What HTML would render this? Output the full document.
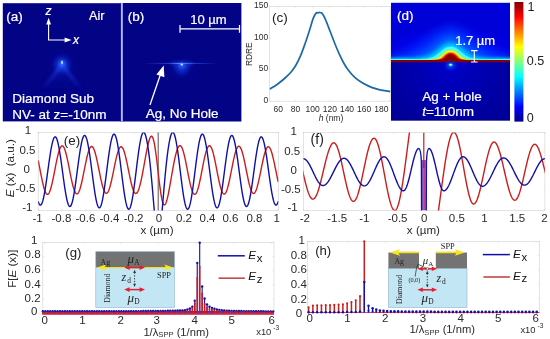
<!DOCTYPE html>
<html lang="en"><head><meta charset="utf-8"><title>Figure</title>
<style>html,body{margin:0;padding:0;background:#fff;}body{width:550px;height:339px;overflow:hidden;}svg{display:block;font-family:"Liberation Sans",Arial,sans-serif;}</style>
</head><body>
<svg width="550" height="339" viewBox="0 0 550 339">
<defs>
<filter id="b1" x="-50%" y="-50%" width="200%" height="200%"><feGaussianBlur stdDeviation="0.7"/></filter>
<filter id="b2" x="-50%" y="-50%" width="200%" height="200%"><feGaussianBlur stdDeviation="1.6"/></filter>
<filter id="b3" x="-50%" y="-50%" width="200%" height="200%"><feGaussianBlur stdDeviation="3"/></filter>
<filter id="b4" x="-50%" y="-50%" width="200%" height="200%"><feGaussianBlur stdDeviation="5"/></filter>
<filter id="b12" x="-50%" y="-50%" width="200%" height="200%"><feGaussianBlur stdDeviation="1.1"/></filter>
<filter id="b05" x="-50%" y="-50%" width="200%" height="200%"><feGaussianBlur stdDeviation="0.45"/></filter>
<radialGradient id="glowA" cx="0.5" cy="0.5" r="0.5"><stop offset="0" stop-color="#2a5cff" stop-opacity="0.85"/><stop offset="0.25" stop-color="#1030e8" stop-opacity="0.5"/><stop offset="0.6" stop-color="#0818c0" stop-opacity="0.2"/><stop offset="1" stop-color="#030386" stop-opacity="0"/></radialGradient>
<linearGradient id="rayA" x1="0" y1="0" x2="0" y2="1"><stop offset="0" stop-color="#2244ee" stop-opacity="0.55"/><stop offset="1" stop-color="#1020c0" stop-opacity="0"/></linearGradient>
<linearGradient id="rayA2" x1="0" y1="0" x2="0" y2="1"><stop offset="0" stop-color="#2c50ff" stop-opacity="0.95"/><stop offset="0.5" stop-color="#1c38e0" stop-opacity="0.6"/><stop offset="1" stop-color="#1020c0" stop-opacity="0"/></linearGradient>
<linearGradient id="lineB" x1="0" y1="0" x2="1" y2="0"><stop offset="0" stop-color="#3060ff" stop-opacity="0"/><stop offset="0.35" stop-color="#3a6cff" stop-opacity="0.55"/><stop offset="0.5" stop-color="#60a0ff" stop-opacity="0.95"/><stop offset="0.65" stop-color="#3a6cff" stop-opacity="0.55"/><stop offset="1" stop-color="#3060ff" stop-opacity="0"/></linearGradient>
<linearGradient id="jet" x1="0" y1="0" x2="0" y2="1"><stop offset="0" stop-color="#800000"/><stop offset="0.125" stop-color="#ff0000"/><stop offset="0.375" stop-color="#ffff00"/><stop offset="0.5" stop-color="#80ff80"/><stop offset="0.625" stop-color="#00ffff"/><stop offset="0.875" stop-color="#0000ff"/><stop offset="1" stop-color="#00008f"/></linearGradient>
<radialGradient id="dglow" cx="0.5" cy="1" r="0.62" gradientTransform="translate(0 0)"><stop offset="0" stop-color="#0060ff"/><stop offset="0.3" stop-color="#0028ff"/><stop offset="0.6" stop-color="#0008f6"/><stop offset="1" stop-color="#0000d8"/></radialGradient>
<radialGradient id="dlow" gradientUnits="userSpaceOnUse" cx="450.6" cy="62" r="75"><stop offset="0" stop-color="#0000d0"/><stop offset="0.2" stop-color="#0000c0"/><stop offset="0.5" stop-color="#0000ae"/><stop offset="0.8" stop-color="#0000a0"/><stop offset="1" stop-color="#000098"/></radialGradient>
<clipPath id="clipD"><rect x="391" y="2.6" width="119" height="118"/></clipPath>
<clipPath id="clipDup"><rect x="391" y="2.6" width="119" height="59.5"/></clipPath>
<clipPath id="clipA"><rect x="3" y="3" width="118" height="118.5"/></clipPath>
<clipPath id="clipB"><rect x="123" y="3" width="118.4" height="118.5"/></clipPath>
<clipPath id="clipBlow"><rect x="123" y="63.4" width="118.4" height="58"/></clipPath>
<clipPath id="clipC"><rect x="269.6" y="6.5" width="121" height="94.7"/></clipPath>
<clipPath id="clipE"><rect x="38.2" y="132.4" width="240.2" height="78.1"/></clipPath>
<clipPath id="clipF"><rect x="303.3" y="132.4" width="241.6" height="78.1"/></clipPath>
</defs>
<rect x="0" y="0" width="550" height="339" fill="#fff"/>
<rect x="2.8" y="3.2" width="118.7" height="118.2" fill="#030386"/>
<g clip-path="url(#clipA)">
<circle cx="62" cy="65" r="17" fill="url(#glowA)" opacity="0.6"/>
<polygon points="62,63 41,92 83,92" fill="url(#rayA)" opacity="0.45" filter="url(#b2)"/>
<g filter="url(#b2)" opacity="0.62">
<polygon points="60.8,63.4 63.2,65 45.4,91 40.4,88" fill="url(#rayA2)"/>
<polygon points="63.2,63.4 60.8,65 78.6,91 83.6,88" fill="url(#rayA2)"/>
</g>
<ellipse cx="62" cy="64.6" rx="5.5" ry="6" fill="#1c48f0" filter="url(#b3)" opacity="0.9"/>
<ellipse cx="62" cy="63.4" rx="2.4" ry="3" fill="#2f6cff" filter="url(#b2)"/>
<ellipse cx="62" cy="62.4" rx="0.9" ry="1.9" fill="#a8e4ff" filter="url(#b05)"/>
</g>
<text x="6.2" y="21" font-size="13.5" fill="#fff" text-anchor="start" stroke="#fff" stroke-width="0.22">(a)</text>
<text x="45.6" y="14.6" font-size="12" fill="#fff" text-anchor="start" font-style="italic" stroke="#fff" stroke-width="0.22">z</text>
<text x="73" y="43.6" font-size="12" fill="#fff" text-anchor="start" font-style="italic" stroke="#fff" stroke-width="0.22">x</text>
<text x="89" y="20.4" font-size="12.6" fill="#fff" text-anchor="start" stroke="#fff" stroke-width="0.22">Air</text>
<path d="M48.6 22 V40 H66" stroke="#fff" stroke-width="1.1" fill="none"/>
<polygon points="48.6,17.8 46.2,24.6 51,24.6" fill="#fff"/>
<polygon points="71.6,40 64.6,37.6 64.6,42.4" fill="#fff"/>
<text x="12.3" y="102.6" font-size="13.5" fill="#fff" text-anchor="start" stroke="#fff" stroke-width="0.22">Diamond Sub</text>
<text x="12.3" y="118.6" font-size="13.5" fill="#fff" text-anchor="start" stroke="#fff" stroke-width="0.22">NV- at z=-10nm</text>
<rect x="120.6" y="3" width="2.6" height="118.5" fill="#030386"/>
<rect x="120.9" y="3" width="1.9" height="118.5" fill="#b8b8ff"/>
<rect x="123" y="3" width="118.4" height="118.5" fill="#030386"/>
<g clip-path="url(#clipB)">
<g clip-path="url(#clipBlow)">
<ellipse cx="181.8" cy="66" rx="17" ry="19" fill="url(#glowA)" opacity="0.6"/>
<ellipse cx="181.8" cy="66" rx="5" ry="6" fill="#1c48f0" filter="url(#b3)" opacity="0.9"/>
</g>
<ellipse cx="181.8" cy="63.5" rx="12" ry="3" fill="#1838e0" filter="url(#b2)" opacity="0.5"/>
<rect x="143" y="62.9" width="76" height="1.1" fill="url(#lineB)" filter="url(#b05)"/>
<ellipse cx="181.8" cy="65.2" rx="2.4" ry="2.2" fill="#2f6cff" filter="url(#b2)"/>
<ellipse cx="181.8" cy="64.6" rx="1.3" ry="1.0" fill="#a8e4ff" filter="url(#b05)"/>
</g>
<text x="127.8" y="21" font-size="13.5" fill="#fff" text-anchor="start" stroke="#fff" stroke-width="0.22">(b)</text>
<text x="190.2" y="23.7" font-size="13" fill="#fff" text-anchor="start" stroke="#fff" stroke-width="0.22">10 µm</text>
<path d="M180 28.9 H239.5 M180 25 V32.8 M239.5 25 V32.8" stroke="#fff" stroke-width="1.2" fill="none"/>
<path d="M150 105 L160.6 74" stroke="#fff" stroke-width="1.3" fill="none"/>
<polygon points="163.7,65.6 156.4,74.6 164.4,77.2" fill="#fff"/>
<text x="145.8" y="118.1" font-size="13.5" fill="#fff" text-anchor="start" stroke="#fff" stroke-width="0.22">Ag, No Hole</text>
<rect x="269.6" y="6.5" width="120.6" height="94.7" fill="#fff" stroke="#d0d0d0" stroke-width="0.6"/>
<path d="M278.2 101.2 v-1.2 M278.2 6.5 v1.2" stroke="#d0d0d0" stroke-width="0.5"/>
<text x="278.2" y="112" font-size="8.5" fill="#2a2a2a" text-anchor="middle" >60</text>
<path d="M295.4 101.2 v-1.2 M295.4 6.5 v1.2" stroke="#d0d0d0" stroke-width="0.5"/>
<text x="295.4" y="112" font-size="8.5" fill="#2a2a2a" text-anchor="middle" >80</text>
<path d="M312.6 101.2 v-1.2 M312.6 6.5 v1.2" stroke="#d0d0d0" stroke-width="0.5"/>
<text x="312.6" y="112" font-size="8.5" fill="#2a2a2a" text-anchor="middle" >100</text>
<path d="M329.8 101.2 v-1.2 M329.8 6.5 v1.2" stroke="#d0d0d0" stroke-width="0.5"/>
<text x="329.8" y="112" font-size="8.5" fill="#2a2a2a" text-anchor="middle" >120</text>
<path d="M347 101.2 v-1.2 M347 6.5 v1.2" stroke="#d0d0d0" stroke-width="0.5"/>
<text x="347" y="112" font-size="8.5" fill="#2a2a2a" text-anchor="middle" >140</text>
<path d="M364.2 101.2 v-1.2 M364.2 6.5 v1.2" stroke="#d0d0d0" stroke-width="0.5"/>
<text x="364.2" y="112" font-size="8.5" fill="#2a2a2a" text-anchor="middle" >160</text>
<path d="M381.4 101.2 v-1.2 M381.4 6.5 v1.2" stroke="#d0d0d0" stroke-width="0.5"/>
<text x="381.4" y="112" font-size="8.5" fill="#2a2a2a" text-anchor="middle" >180</text>
<path d="M269.6 101.2 h1.2 M390.2 101.2 h-1.2" stroke="#d0d0d0" stroke-width="0.5"/>
<text x="268.2" y="103.05" font-size="8.5" fill="#2a2a2a" text-anchor="end" >0</text>
<path d="M269.6 69.63 h1.2 M390.2 69.63 h-1.2" stroke="#d0d0d0" stroke-width="0.5"/>
<text x="268.2" y="71.48" font-size="8.5" fill="#2a2a2a" text-anchor="end" >50</text>
<path d="M269.6 38.07 h1.2 M390.2 38.07 h-1.2" stroke="#d0d0d0" stroke-width="0.5"/>
<text x="268.2" y="39.92" font-size="8.5" fill="#2a2a2a" text-anchor="end" >100</text>
<path d="M269.6 6.5 h1.2 M390.2 6.5 h-1.2" stroke="#d0d0d0" stroke-width="0.5"/>
<text x="268.2" y="8.35" font-size="8.5" fill="#2a2a2a" text-anchor="end" >150</text>
<text x="331" y="120.6" font-size="8.5" fill="#2a2a2a" text-anchor="middle" ><tspan font-style="italic">h</tspan> (nm)</text>
<text transform="translate(252.4 54.2) rotate(-90)" font-size="8.4" fill="#2a2a2a" text-anchor="middle">RDRE</text>
<text x="272" y="21.6" font-size="13.6" fill="#222" text-anchor="start" >(c)</text>
<path d="M269.6 89.2C270.9 88.37 274.82 86.07 277.4 84.2C279.98 82.33 282.78 80.07 285.1 78C287.42 75.93 289.48 73.97 291.3 71.8C293.12 69.63 294.45 67.68 296 65C297.55 62.32 299.07 59.32 300.6 55.7C302.13 52.08 303.75 47.42 305.2 43.3C306.65 39.18 308 35.07 309.3 31C310.6 26.93 312.02 21.68 313 18.9C313.98 16.12 314.53 15.35 315.2 14.3C315.87 13.25 316.48 12.83 317 12.6C317.52 12.37 317.9 12.95 318.3 12.9C318.7 12.85 318.98 12.32 319.4 12.3C319.82 12.28 320.32 12.58 320.8 12.8C321.28 13.02 321.53 12.5 322.3 13.6C323.07 14.7 324.12 16.5 325.4 19.4C326.68 22.3 328.45 27.02 330 31C331.55 34.98 333.15 39.43 334.7 43.3C336.25 47.17 337.75 50.83 339.3 54.2C340.85 57.57 342.45 60.77 344 63.5C345.55 66.23 346.8 68.28 348.6 70.6C350.4 72.92 352.73 75.5 354.8 77.4C356.87 79.3 358.68 80.55 361 82C363.32 83.45 366.12 84.95 368.7 86.1C371.28 87.25 373.92 88.13 376.5 88.9C379.08 89.67 381.88 90.25 384.2 90.7C386.52 91.15 389.37 91.45 390.4 91.6" fill="none" stroke="#1a6aa6" stroke-width="1.7" stroke-linejoin="round" clip-path="url(#clipC)"/>
<g clip-path="url(#clipD)">
<rect x="391" y="2.6" width="119" height="59.6" fill="url(#dglow)"/>
<rect x="391" y="62" width="119" height="59" fill="url(#dlow)"/>
<rect x="391" y="119.2" width="119" height="2" fill="#00007a" opacity="0.7"/>
<g clip-path="url(#clipDup)">
<path d="M390 63.1L390 60.1L390 56.49L390.5 56.41L391 56.32L391.5 56.23L392 56.14L392.5 56.05L393 55.95L393.5 55.86L394 55.75L394.5 55.65L395 55.54L395.5 55.43L396 55.31L396.5 55.19L397 55.07L397.5 54.94L398 54.81L398.5 54.68L399 54.54L399.5 54.39L400 54.24L400.5 54.09L401 53.93L401.5 53.77L402 53.61L402.5 53.43L403 53.26L403.5 53.08L404 52.89L404.5 52.7L405 52.5L405.5 52.3L406 52.09L406.5 51.87L407 51.65L407.5 51.43L408 51.2L408.5 50.96L409 50.72L409.5 50.47L410 50.22L410.5 49.96L411 49.69L411.5 49.42L412 49.14L412.5 48.85L413 48.56L413.5 48.27L414 47.97L414.5 47.66L415 47.35L415.5 47.03L416 46.7L416.5 46.37L417 46.04L417.5 45.7L418 45.35L418.5 45L419 44.65L419.5 44.29L420 43.92L420.5 43.55L421 43.18L421.5 42.81L422 42.43L422.5 42.04L423 41.66L423.5 41.27L424 40.88L424.5 40.48L425 40.09L425.5 39.69L426 39.29L426.5 38.89L427 38.49L427.5 38.09L428 37.69L428.5 37.29L429 36.89L429.5 36.49L430 36.1L430.5 35.7L431 35.31L431.5 34.92L432 34.54L432.5 34.15L433 33.78L433.5 33.4L434 33.03L434.5 32.67L435 32.31L435.5 31.96L436 31.62L436.5 31.28L437 30.95L437.5 30.63L438 30.31L438.5 30.01L439 29.71L439.5 29.42L440 29.15L440.5 28.88L441 28.62L441.5 28.38L442 28.14L442.5 27.92L443 27.71L443.5 27.51L444 27.32L444.5 27.14L445 26.98L445.5 26.83L446 26.7L446.5 26.58L447 26.47L447.5 26.37L448 26.29L448.5 26.23L449 26.17L449.5 26.13L450 26.11L450.5 26.1L451 26.1L451.5 26.12L452 26.16L452.5 26.2L453 26.26L453.5 26.34L454 26.43L454.5 26.53L455 26.65L455.5 26.78L456 26.92L456.5 27.08L457 27.25L457.5 27.43L458 27.62L458.5 27.83L459 28.05L459.5 28.28L460 28.52L460.5 28.77L461 29.04L461.5 29.31L462 29.59L462.5 29.89L463 30.19L463.5 30.5L464 30.82L464.5 31.15L465 31.48L465.5 31.82L466 32.17L466.5 32.53L467 32.89L467.5 33.25L468 33.63L468.5 34L469 34.38L469.5 34.77L470 35.16L470.5 35.55L471 35.94L471.5 36.33L472 36.73L472.5 37.13L473 37.53L473.5 37.93L474 38.33L474.5 38.73L475 39.13L475.5 39.53L476 39.93L476.5 40.32L477 40.72L477.5 41.11L478 41.5L478.5 41.89L479 42.27L479.5 42.65L480 43.03L480.5 43.41L481 43.78L481.5 44.14L482 44.5L482.5 44.86L483 45.21L483.5 45.56L484 45.9L484.5 46.24L485 46.57L485.5 46.9L486 47.22L486.5 47.53L487 47.84L487.5 48.15L488 48.45L488.5 48.74L489 49.03L489.5 49.31L490 49.58L490.5 49.85L491 50.11L491.5 50.37L492 50.62L492.5 50.87L493 51.1L493.5 51.34L494 51.57L494.5 51.79L495 52L495.5 52.21L496 52.42L496.5 52.62L497 52.81L497.5 53L498 53.19L498.5 53.36L499 53.54L499.5 53.71L500 53.87L500.5 54.03L501 54.18L501.5 54.33L502 54.48L502.5 54.62L503 54.76L503.5 54.89L504 55.02L504.5 55.14L505 55.26L505.5 55.38L506 55.49L506.5 55.61L507 55.71L507.5 55.82L508 55.92L508.5 56.01L509 56.11L509.5 56.2L510 56.29L510.5 56.37L511 56.46L511 63.1Z" fill="#0038ff" filter="url(#b4)" opacity="0.75"/>
<path d="M390 63.1L390 59.1L390 58.67L390.5 58.66L391 58.64L391.5 58.63L392 58.61L392.5 58.59L393 58.57L393.5 58.56L394 58.54L394.5 58.52L395 58.49L395.5 58.47L396 58.45L396.5 58.43L397 58.4L397.5 58.37L398 58.35L398.5 58.32L399 58.29L399.5 58.26L400 58.22L400.5 58.19L401 58.15L401.5 58.11L402 58.07L402.5 58.03L403 57.99L403.5 57.94L404 57.89L404.5 57.84L405 57.78L405.5 57.72L406 57.66L406.5 57.6L407 57.53L407.5 57.46L408 57.38L408.5 57.3L409 57.22L409.5 57.13L410 57.04L410.5 56.94L411 56.84L411.5 56.73L412 56.62L412.5 56.5L413 56.37L413.5 56.24L414 56.1L414.5 55.96L415 55.8L415.5 55.65L416 55.48L416.5 55.31L417 55.12L417.5 54.93L418 54.74L418.5 54.53L419 54.32L419.5 54.09L420 53.86L420.5 53.62L421 53.37L421.5 53.12L422 52.85L422.5 52.57L423 52.29L423.5 52L424 51.69L424.5 51.38L425 51.06L425.5 50.73L426 50.4L426.5 50.05L427 49.7L427.5 49.34L428 48.97L428.5 48.6L429 48.21L429.5 47.83L430 47.43L430.5 47.03L431 46.63L431.5 46.22L432 45.81L432.5 45.4L433 44.98L433.5 44.57L434 44.15L434.5 43.73L435 43.31L435.5 42.89L436 42.48L436.5 42.07L437 41.66L437.5 41.26L438 40.86L438.5 40.47L439 40.09L439.5 39.71L440 39.35L440.5 38.99L441 38.65L441.5 38.32L442 37.99L442.5 37.69L443 37.39L443.5 37.12L444 36.85L444.5 36.61L445 36.38L445.5 36.16L446 35.97L446.5 35.79L447 35.64L447.5 35.5L448 35.38L448.5 35.28L449 35.21L449.5 35.15L450 35.12L450.5 35.1L451 35.11L451.5 35.13L452 35.18L452.5 35.25L453 35.34L453.5 35.45L454 35.58L454.5 35.73L455 35.9L455.5 36.08L456 36.29L456.5 36.51L457 36.75L457.5 37.01L458 37.28L458.5 37.57L459 37.87L459.5 38.19L460 38.51L460.5 38.85L461 39.21L461.5 39.57L462 39.94L462.5 40.32L463 40.71L463.5 41.1L464 41.5L464.5 41.91L465 42.32L465.5 42.73L466 43.14L466.5 43.56L467 43.98L467.5 44.4L468 44.82L468.5 45.23L469 45.65L469.5 46.06L470 46.47L470.5 46.87L471 47.27L471.5 47.67L472 48.06L472.5 48.44L473 48.82L473.5 49.19L474 49.56L474.5 49.91L475 50.26L475.5 50.6L476 50.93L476.5 51.26L477 51.57L477.5 51.88L478 52.17L478.5 52.46L479 52.74L479.5 53.01L480 53.27L480.5 53.53L481 53.77L481.5 54L482 54.23L482.5 54.45L483 54.66L483.5 54.86L484 55.05L484.5 55.23L485 55.41L485.5 55.58L486 55.74L486.5 55.9L487 56.04L487.5 56.18L488 56.32L488.5 56.45L489 56.57L489.5 56.69L490 56.8L490.5 56.9L491 57L491.5 57.1L492 57.19L492.5 57.27L493 57.35L493.5 57.43L494 57.5L494.5 57.57L495 57.64L495.5 57.7L496 57.76L496.5 57.82L497 57.87L497.5 57.92L498 57.97L498.5 58.01L499 58.06L499.5 58.1L500 58.14L500.5 58.17L501 58.21L501.5 58.24L502 58.28L502.5 58.31L503 58.34L503.5 58.36L504 58.39L504.5 58.42L505 58.44L505.5 58.46L506 58.49L506.5 58.51L507 58.53L507.5 58.55L508 58.57L508.5 58.58L509 58.6L509.5 58.62L510 58.63L510.5 58.65L511 58.67L511 63.1Z" fill="#0068ff" filter="url(#b3)" opacity="0.8"/>
<path d="M390 63.1L390 57.9L390 57.89L390.5 57.89L391 57.89L391.5 57.89L392 57.89L392.5 57.89L393 57.89L393.5 57.89L394 57.89L394.5 57.89L395 57.89L395.5 57.88L396 57.88L396.5 57.88L397 57.88L397.5 57.88L398 57.88L398.5 57.87L399 57.87L399.5 57.87L400 57.87L400.5 57.86L401 57.86L401.5 57.86L402 57.85L402.5 57.85L403 57.85L403.5 57.84L404 57.84L404.5 57.83L405 57.83L405.5 57.82L406 57.81L406.5 57.81L407 57.8L407.5 57.79L408 57.78L408.5 57.77L409 57.76L409.5 57.75L410 57.73L410.5 57.72L411 57.7L411.5 57.69L412 57.67L412.5 57.64L413 57.62L413.5 57.6L414 57.57L414.5 57.54L415 57.5L415.5 57.47L416 57.43L416.5 57.38L417 57.34L417.5 57.28L418 57.23L418.5 57.16L419 57.1L419.5 57.02L420 56.94L420.5 56.86L421 56.76L421.5 56.66L422 56.55L422.5 56.43L423 56.31L423.5 56.17L424 56.02L424.5 55.87L425 55.7L425.5 55.52L426 55.33L426.5 55.13L427 54.92L427.5 54.7L428 54.46L428.5 54.21L429 53.95L429.5 53.67L430 53.39L430.5 53.09L431 52.78L431.5 52.45L432 52.12L432.5 51.77L433 51.42L433.5 51.05L434 50.68L434.5 50.29L435 49.9L435.5 49.51L436 49.1L436.5 48.7L437 48.29L437.5 47.88L438 47.47L438.5 47.06L439 46.65L439.5 46.25L440 45.85L440.5 45.46L441 45.08L441.5 44.71L442 44.35L442.5 44L443 43.67L443.5 43.35L444 43.05L444.5 42.77L445 42.51L445.5 42.27L446 42.05L446.5 41.85L447 41.67L447.5 41.52L448 41.39L448.5 41.29L449 41.21L449.5 41.15L450 41.11L450.5 41.1L451 41.11L451.5 41.13L452 41.18L452.5 41.25L453 41.35L453.5 41.47L454 41.61L454.5 41.78L455 41.96L455.5 42.18L456 42.41L456.5 42.66L457 42.94L457.5 43.23L458 43.54L458.5 43.87L459 44.21L459.5 44.56L460 44.93L460.5 45.31L461 45.69L461.5 46.09L462 46.49L462.5 46.89L463 47.3L463.5 47.71L464 48.13L464.5 48.53L465 48.94L465.5 49.35L466 49.74L466.5 50.14L467 50.52L467.5 50.9L468 51.27L468.5 51.63L469 51.98L469.5 52.32L470 52.65L470.5 52.96L471 53.27L471.5 53.56L472 53.84L472.5 54.11L473 54.36L473.5 54.6L474 54.83L474.5 55.05L475 55.26L475.5 55.45L476 55.63L476.5 55.8L477 55.96L477.5 56.11L478 56.25L478.5 56.38L479 56.5L479.5 56.62L480 56.72L480.5 56.82L481 56.91L481.5 56.99L482 57.07L482.5 57.14L483 57.2L483.5 57.26L484 57.32L484.5 57.36L485 57.41L485.5 57.45L486 57.49L486.5 57.52L487 57.56L487.5 57.59L488 57.61L488.5 57.64L489 57.66L489.5 57.68L490 57.7L490.5 57.71L491 57.73L491.5 57.74L492 57.75L492.5 57.77L493 57.78L493.5 57.79L494 57.8L494.5 57.8L495 57.81L495.5 57.82L496 57.82L496.5 57.83L497 57.84L497.5 57.84L498 57.84L498.5 57.85L499 57.85L499.5 57.86L500 57.86L500.5 57.86L501 57.87L501.5 57.87L502 57.87L502.5 57.87L503 57.88L503.5 57.88L504 57.88L504.5 57.88L505 57.88L505.5 57.88L506 57.88L506.5 57.89L507 57.89L507.5 57.89L508 57.89L508.5 57.89L509 57.89L509.5 57.89L510 57.89L510.5 57.89L511 57.89L511 63.1Z" fill="#00a0ff" filter="url(#b2)" opacity="0.9"/>
<path d="M390 63.1L390 58.5L390 58.5L390.5 58.5L391 58.5L391.5 58.5L392 58.5L392.5 58.5L393 58.5L393.5 58.5L394 58.5L394.5 58.5L395 58.5L395.5 58.5L396 58.5L396.5 58.5L397 58.5L397.5 58.5L398 58.5L398.5 58.5L399 58.5L399.5 58.5L400 58.5L400.5 58.5L401 58.5L401.5 58.5L402 58.5L402.5 58.5L403 58.5L403.5 58.49L404 58.49L404.5 58.49L405 58.49L405.5 58.49L406 58.49L406.5 58.49L407 58.49L407.5 58.49L408 58.49L408.5 58.48L409 58.48L409.5 58.48L410 58.48L410.5 58.47L411 58.47L411.5 58.47L412 58.46L412.5 58.46L413 58.46L413.5 58.45L414 58.44L414.5 58.44L415 58.43L415.5 58.42L416 58.41L416.5 58.4L417 58.39L417.5 58.37L418 58.36L418.5 58.34L419 58.32L419.5 58.3L420 58.27L420.5 58.24L421 58.21L421.5 58.17L422 58.13L422.5 58.08L423 58.03L423.5 57.97L424 57.9L424.5 57.83L425 57.75L425.5 57.66L426 57.56L426.5 57.45L427 57.33L427.5 57.2L428 57.06L428.5 56.9L429 56.73L429.5 56.55L430 56.35L430.5 56.13L431 55.91L431.5 55.66L432 55.4L432.5 55.13L433 54.84L433.5 54.53L434 54.21L434.5 53.87L435 53.52L435.5 53.16L436 52.79L436.5 52.4L437 52.01L437.5 51.61L438 51.2L438.5 50.79L439 50.38L439.5 49.96L440 49.55L440.5 49.14L441 48.74L441.5 48.34L442 47.96L442.5 47.58L443 47.22L443.5 46.88L444 46.56L444.5 46.25L445 45.97L445.5 45.71L446 45.48L446.5 45.26L447 45.08L447.5 44.92L448 44.79L448.5 44.68L449 44.6L449.5 44.54L450 44.51L450.5 44.5L451 44.5L451.5 44.53L452 44.58L452.5 44.65L453 44.74L453.5 44.86L454 45.01L454.5 45.19L455 45.39L455.5 45.61L456 45.86L456.5 46.14L457 46.43L457.5 46.75L458 47.09L458.5 47.44L459 47.8L459.5 48.19L460 48.58L460.5 48.98L461 49.38L461.5 49.8L462 50.21L462.5 50.62L463 51.04L463.5 51.45L464 51.85L464.5 52.25L465 52.63L465.5 53.01L466 53.38L466.5 53.73L467 54.08L467.5 54.4L468 54.71L468.5 55.01L469 55.29L469.5 55.56L470 55.81L470.5 56.04L471 56.26L471.5 56.47L472 56.66L472.5 56.83L473 57L473.5 57.14L474 57.28L474.5 57.41L475 57.52L475.5 57.62L476 57.72L476.5 57.8L477 57.88L477.5 57.95L478 58.01L478.5 58.06L479 58.11L479.5 58.15L480 58.19L480.5 58.23L481 58.26L481.5 58.29L482 58.31L482.5 58.33L483 58.35L483.5 58.37L484 58.38L484.5 58.4L485 58.41L485.5 58.42L486 58.43L486.5 58.43L487 58.44L487.5 58.45L488 58.45L488.5 58.46L489 58.46L489.5 58.47L490 58.47L490.5 58.47L491 58.48L491.5 58.48L492 58.48L492.5 58.48L493 58.48L493.5 58.49L494 58.49L494.5 58.49L495 58.49L495.5 58.49L496 58.49L496.5 58.49L497 58.49L497.5 58.49L498 58.5L498.5 58.5L499 58.5L499.5 58.5L500 58.5L500.5 58.5L501 58.5L501.5 58.5L502 58.5L502.5 58.5L503 58.5L503.5 58.5L504 58.5L504.5 58.5L505 58.5L505.5 58.5L506 58.5L506.5 58.5L507 58.5L507.5 58.5L508 58.5L508.5 58.5L509 58.5L509.5 58.5L510 58.5L510.5 58.5L511 58.5L511 63.1Z" fill="#00d4ff" filter="url(#b12)" opacity="0.95"/>
<path d="M390 63.1L390 59L390 59L390.5 59L391 59L391.5 59L392 59L392.5 59L393 59L393.5 59L394 59L394.5 59L395 59L395.5 59L396 59L396.5 59L397 59L397.5 59L398 59L398.5 59L399 59L399.5 59L400 59L400.5 59L401 59L401.5 59L402 59L402.5 59L403 59L403.5 59L404 59L404.5 59L405 59L405.5 59L406 59L406.5 59L407 59L407.5 59L408 59L408.5 58.99L409 58.99L409.5 58.99L410 58.99L410.5 58.99L411 58.99L411.5 58.99L412 58.99L412.5 58.99L413 58.98L413.5 58.98L414 58.98L414.5 58.98L415 58.98L415.5 58.97L416 58.97L416.5 58.97L417 58.96L417.5 58.96L418 58.95L418.5 58.95L419 58.94L419.5 58.93L420 58.92L420.5 58.91L421 58.9L421.5 58.89L422 58.87L422.5 58.86L423 58.84L423.5 58.82L424 58.79L424.5 58.76L425 58.73L425.5 58.69L426 58.65L426.5 58.6L427 58.54L427.5 58.47L428 58.4L428.5 58.31L429 58.22L429.5 58.11L430 57.99L430.5 57.86L431 57.71L431.5 57.54L432 57.36L432.5 57.16L433 56.94L433.5 56.7L434 56.45L434.5 56.17L435 55.88L435.5 55.56L436 55.23L436.5 54.88L437 54.52L437.5 54.14L438 53.75L438.5 53.34L439 52.93L439.5 52.51L440 52.08L440.5 51.66L441 51.23L441.5 50.81L442 50.4L442.5 50L443 49.61L443.5 49.24L444 48.89L444.5 48.56L445 48.25L445.5 47.97L446 47.72L446.5 47.49L447 47.29L447.5 47.12L448 46.99L448.5 46.88L449 46.8L449.5 46.74L450 46.71L450.5 46.7L451 46.7L451.5 46.73L452 46.77L452.5 46.84L453 46.94L453.5 47.07L454 47.22L454.5 47.41L455 47.62L455.5 47.87L456 48.14L456.5 48.43L457 48.76L457.5 49.1L458 49.46L458.5 49.85L459 50.24L459.5 50.65L460 51.07L460.5 51.49L461 51.91L461.5 52.34L462 52.76L462.5 53.18L463 53.58L463.5 53.98L464 54.37L464.5 54.74L465 55.1L465.5 55.43L466 55.75L466.5 56.06L467 56.34L467.5 56.6L468 56.85L468.5 57.07L469 57.28L469.5 57.47L470 57.64L470.5 57.8L471 57.94L471.5 58.06L472 58.18L472.5 58.28L473 58.37L473.5 58.44L474 58.51L474.5 58.57L475 58.63L475.5 58.67L476 58.71L476.5 58.75L477 58.78L477.5 58.81L478 58.83L478.5 58.85L479 58.87L479.5 58.88L480 58.9L480.5 58.91L481 58.92L481.5 58.93L482 58.94L482.5 58.94L483 58.95L483.5 58.95L484 58.96L484.5 58.96L485 58.97L485.5 58.97L486 58.97L486.5 58.98L487 58.98L487.5 58.98L488 58.98L488.5 58.99L489 58.99L489.5 58.99L490 58.99L490.5 58.99L491 58.99L491.5 58.99L492 58.99L492.5 58.99L493 59L493.5 59L494 59L494.5 59L495 59L495.5 59L496 59L496.5 59L497 59L497.5 59L498 59L498.5 59L499 59L499.5 59L500 59L500.5 59L501 59L501.5 59L502 59L502.5 59L503 59L503.5 59L504 59L504.5 59L505 59L505.5 59L506 59L506.5 59L507 59L507.5 59L508 59L508.5 59L509 59L509.5 59L510 59L510.5 59L511 59L511 63.1Z" fill="#50f4ff" filter="url(#b1)"/>
<path d="M390 63.1L390 59.6L390 59.6L390.5 59.6L391 59.6L391.5 59.6L392 59.6L392.5 59.6L393 59.6L393.5 59.6L394 59.6L394.5 59.6L395 59.6L395.5 59.6L396 59.6L396.5 59.6L397 59.6L397.5 59.6L398 59.6L398.5 59.6L399 59.6L399.5 59.6L400 59.6L400.5 59.6L401 59.6L401.5 59.6L402 59.6L402.5 59.6L403 59.6L403.5 59.6L404 59.6L404.5 59.6L405 59.6L405.5 59.6L406 59.6L406.5 59.6L407 59.6L407.5 59.6L408 59.6L408.5 59.6L409 59.6L409.5 59.6L410 59.6L410.5 59.6L411 59.6L411.5 59.6L412 59.6L412.5 59.6L413 59.6L413.5 59.6L414 59.6L414.5 59.6L415 59.59L415.5 59.59L416 59.59L416.5 59.59L417 59.59L417.5 59.59L418 59.59L418.5 59.59L419 59.58L419.5 59.58L420 59.58L420.5 59.57L421 59.57L421.5 59.57L422 59.56L422.5 59.56L423 59.55L423.5 59.55L424 59.54L424.5 59.53L425 59.52L425.5 59.51L426 59.5L426.5 59.48L427 59.47L427.5 59.45L428 59.42L428.5 59.4L429 59.36L429.5 59.33L430 59.28L430.5 59.23L431 59.17L431.5 59.09L432 59.01L432.5 58.91L433 58.79L433.5 58.66L434 58.5L434.5 58.32L435 58.12L435.5 57.9L436 57.65L436.5 57.37L437 57.07L437.5 56.74L438 56.38L438.5 56L439 55.6L439.5 55.18L440 54.74L440.5 54.29L441 53.84L441.5 53.38L442 52.92L442.5 52.47L443 52.03L443.5 51.61L444 51.2L444.5 50.83L445 50.47L445.5 50.16L446 49.87L446.5 49.62L447 49.4L447.5 49.22L448 49.08L448.5 48.97L449 48.89L449.5 48.84L450 48.81L450.5 48.8L451 48.8L451.5 48.82L452 48.86L452.5 48.93L453 49.03L453.5 49.16L454 49.33L454.5 49.53L455 49.76L455.5 50.04L456 50.34L456.5 50.68L457 51.05L457.5 51.44L458 51.86L458.5 52.29L459 52.74L459.5 53.19L460 53.65L460.5 54.11L461 54.56L461.5 55.01L462 55.43L462.5 55.84L463 56.23L463.5 56.6L464 56.94L464.5 57.25L465 57.54L465.5 57.8L466 58.04L466.5 58.25L467 58.43L467.5 58.6L468 58.74L468.5 58.86L469 58.97L469.5 59.06L470 59.14L470.5 59.21L471 59.26L471.5 59.31L472 59.35L472.5 59.38L473 59.41L473.5 59.44L474 59.46L474.5 59.48L475 59.49L475.5 59.5L476 59.52L476.5 59.53L477 59.53L477.5 59.54L478 59.55L478.5 59.56L479 59.56L479.5 59.57L480 59.57L480.5 59.57L481 59.58L481.5 59.58L482 59.58L482.5 59.58L483 59.59L483.5 59.59L484 59.59L484.5 59.59L485 59.59L485.5 59.59L486 59.59L486.5 59.6L487 59.6L487.5 59.6L488 59.6L488.5 59.6L489 59.6L489.5 59.6L490 59.6L490.5 59.6L491 59.6L491.5 59.6L492 59.6L492.5 59.6L493 59.6L493.5 59.6L494 59.6L494.5 59.6L495 59.6L495.5 59.6L496 59.6L496.5 59.6L497 59.6L497.5 59.6L498 59.6L498.5 59.6L499 59.6L499.5 59.6L500 59.6L500.5 59.6L501 59.6L501.5 59.6L502 59.6L502.5 59.6L503 59.6L503.5 59.6L504 59.6L504.5 59.6L505 59.6L505.5 59.6L506 59.6L506.5 59.6L507 59.6L507.5 59.6L508 59.6L508.5 59.6L509 59.6L509.5 59.6L510 59.6L510.5 59.6L511 59.6L511 63.1Z" fill="#60ffb0" filter="url(#b1)"/>
<path d="M390 63.1L390 59.9L390 59.9L390.5 59.9L391 59.9L391.5 59.9L392 59.9L392.5 59.9L393 59.9L393.5 59.9L394 59.9L394.5 59.9L395 59.9L395.5 59.9L396 59.9L396.5 59.9L397 59.9L397.5 59.9L398 59.9L398.5 59.9L399 59.9L399.5 59.9L400 59.9L400.5 59.9L401 59.9L401.5 59.9L402 59.9L402.5 59.9L403 59.9L403.5 59.9L404 59.9L404.5 59.9L405 59.9L405.5 59.9L406 59.9L406.5 59.9L407 59.9L407.5 59.9L408 59.9L408.5 59.9L409 59.9L409.5 59.9L410 59.9L410.5 59.9L411 59.9L411.5 59.9L412 59.9L412.5 59.9L413 59.9L413.5 59.9L414 59.9L414.5 59.9L415 59.9L415.5 59.9L416 59.9L416.5 59.9L417 59.9L417.5 59.9L418 59.89L418.5 59.89L419 59.89L419.5 59.89L420 59.89L420.5 59.89L421 59.89L421.5 59.88L422 59.88L422.5 59.88L423 59.87L423.5 59.87L424 59.86L424.5 59.86L425 59.85L425.5 59.85L426 59.84L426.5 59.83L427 59.82L427.5 59.81L428 59.8L428.5 59.79L429 59.78L429.5 59.76L430 59.75L430.5 59.73L431 59.7L431.5 59.68L432 59.65L432.5 59.61L433 59.57L433.5 59.52L434 59.45L434.5 59.37L435 59.28L435.5 59.16L436 59.03L436.5 58.86L437 58.67L437.5 58.44L438 58.18L438.5 57.88L439 57.55L439.5 57.18L440 56.78L440.5 56.36L441 55.9L441.5 55.43L442 54.95L442.5 54.46L443 53.97L443.5 53.5L444 53.05L444.5 52.62L445 52.22L445.5 51.85L446 51.53L446.5 51.25L447 51.01L447.5 50.82L448 50.67L448.5 50.56L449 50.48L449.5 50.43L450 50.41L450.5 50.4L451 50.4L451.5 50.42L452 50.46L452.5 50.52L453 50.62L453.5 50.76L454 50.93L454.5 51.15L455 51.41L455.5 51.72L456 52.07L456.5 52.45L457 52.87L457.5 53.32L458 53.78L458.5 54.27L459 54.75L459.5 55.24L460 55.72L460.5 56.18L461 56.62L461.5 57.03L462 57.41L462.5 57.75L463 58.07L463.5 58.34L464 58.58L464.5 58.79L465 58.96L465.5 59.11L466 59.24L466.5 59.34L467 59.42L467.5 59.49L468 59.55L468.5 59.6L469 59.63L469.5 59.67L470 59.69L470.5 59.72L471 59.74L471.5 59.76L472 59.77L472.5 59.79L473 59.8L473.5 59.81L474 59.82L474.5 59.83L475 59.84L475.5 59.84L476 59.85L476.5 59.86L477 59.86L477.5 59.87L478 59.87L478.5 59.88L479 59.88L479.5 59.88L480 59.88L480.5 59.89L481 59.89L481.5 59.89L482 59.89L482.5 59.89L483 59.89L483.5 59.89L484 59.9L484.5 59.9L485 59.9L485.5 59.9L486 59.9L486.5 59.9L487 59.9L487.5 59.9L488 59.9L488.5 59.9L489 59.9L489.5 59.9L490 59.9L490.5 59.9L491 59.9L491.5 59.9L492 59.9L492.5 59.9L493 59.9L493.5 59.9L494 59.9L494.5 59.9L495 59.9L495.5 59.9L496 59.9L496.5 59.9L497 59.9L497.5 59.9L498 59.9L498.5 59.9L499 59.9L499.5 59.9L500 59.9L500.5 59.9L501 59.9L501.5 59.9L502 59.9L502.5 59.9L503 59.9L503.5 59.9L504 59.9L504.5 59.9L505 59.9L505.5 59.9L506 59.9L506.5 59.9L507 59.9L507.5 59.9L508 59.9L508.5 59.9L509 59.9L509.5 59.9L510 59.9L510.5 59.9L511 59.9L511 63.1Z" fill="#e0ff20" filter="url(#b1)"/>
<path d="M390 63.1L390 60L390 60L390.5 60L391 60L391.5 60L392 60L392.5 60L393 60L393.5 60L394 60L394.5 60L395 60L395.5 60L396 60L396.5 60L397 60L397.5 60L398 60L398.5 60L399 60L399.5 60L400 60L400.5 60L401 60L401.5 60L402 60L402.5 60L403 60L403.5 60L404 60L404.5 60L405 60L405.5 60L406 60L406.5 60L407 60L407.5 60L408 60L408.5 60L409 60L409.5 60L410 60L410.5 60L411 60L411.5 60L412 60L412.5 60L413 60L413.5 60L414 60L414.5 60L415 60L415.5 60L416 60L416.5 60L417 60L417.5 60L418 60L418.5 60L419 60L419.5 60L420 60L420.5 59.99L421 59.99L421.5 59.99L422 59.99L422.5 59.99L423 59.99L423.5 59.98L424 59.98L424.5 59.98L425 59.98L425.5 59.97L426 59.97L426.5 59.96L427 59.96L427.5 59.95L428 59.94L428.5 59.93L429 59.92L429.5 59.91L430 59.9L430.5 59.89L431 59.88L431.5 59.86L432 59.84L432.5 59.82L433 59.8L433.5 59.78L434 59.75L434.5 59.72L435 59.68L435.5 59.64L436 59.58L436.5 59.51L437 59.42L437.5 59.32L438 59.18L438.5 59.02L439 58.83L439.5 58.59L440 58.32L440.5 58.01L441 57.66L441.5 57.27L442 56.85L442.5 56.4L443 55.93L443.5 55.45L444 54.98L444.5 54.51L445 54.07L445.5 53.65L446 53.27L446.5 52.94L447 52.65L447.5 52.42L448 52.23L448.5 52.09L449 52L449.5 51.94L450 51.91L450.5 51.9L451 51.9L451.5 51.92L452 51.97L452.5 52.05L453 52.17L453.5 52.34L454 52.55L454.5 52.82L455 53.13L455.5 53.49L456 53.9L456.5 54.33L457 54.79L457.5 55.26L458 55.74L458.5 56.21L459 56.67L459.5 57.11L460 57.51L460.5 57.88L461 58.2L461.5 58.49L462 58.74L462.5 58.95L463 59.12L463.5 59.27L464 59.38L464.5 59.48L465 59.55L465.5 59.61L466 59.66L466.5 59.71L467 59.74L467.5 59.77L468 59.79L468.5 59.82L469 59.84L469.5 59.85L470 59.87L470.5 59.88L471 59.9L471.5 59.91L472 59.92L472.5 59.93L473 59.94L473.5 59.95L474 59.95L474.5 59.96L475 59.96L475.5 59.97L476 59.97L476.5 59.98L477 59.98L477.5 59.98L478 59.99L478.5 59.99L479 59.99L479.5 59.99L480 59.99L480.5 59.99L481 59.99L481.5 60L482 60L482.5 60L483 60L483.5 60L484 60L484.5 60L485 60L485.5 60L486 60L486.5 60L487 60L487.5 60L488 60L488.5 60L489 60L489.5 60L490 60L490.5 60L491 60L491.5 60L492 60L492.5 60L493 60L493.5 60L494 60L494.5 60L495 60L495.5 60L496 60L496.5 60L497 60L497.5 60L498 60L498.5 60L499 60L499.5 60L500 60L500.5 60L501 60L501.5 60L502 60L502.5 60L503 60L503.5 60L504 60L504.5 60L505 60L505.5 60L506 60L506.5 60L507 60L507.5 60L508 60L508.5 60L509 60L509.5 60L510 60L510.5 60L511 60L511 63.1Z" fill="#ffa000" filter="url(#b1)"/>
<path d="M390 63.1L390 60.05L390 60.05L390.5 60.05L391 60.05L391.5 60.05L392 60.05L392.5 60.05L393 60.05L393.5 60.05L394 60.05L394.5 60.05L395 60.05L395.5 60.05L396 60.05L396.5 60.05L397 60.05L397.5 60.05L398 60.05L398.5 60.05L399 60.05L399.5 60.05L400 60.05L400.5 60.05L401 60.05L401.5 60.05L402 60.05L402.5 60.05L403 60.05L403.5 60.05L404 60.05L404.5 60.05L405 60.05L405.5 60.05L406 60.05L406.5 60.05L407 60.05L407.5 60.05L408 60.05L408.5 60.05L409 60.05L409.5 60.05L410 60.05L410.5 60.05L411 60.05L411.5 60.05L412 60.05L412.5 60.05L413 60.05L413.5 60.05L414 60.05L414.5 60.05L415 60.05L415.5 60.05L416 60.05L416.5 60.05L417 60.05L417.5 60.05L418 60.05L418.5 60.05L419 60.05L419.5 60.05L420 60.05L420.5 60.05L421 60.05L421.5 60.05L422 60.05L422.5 60.05L423 60.04L423.5 60.04L424 60.04L424.5 60.04L425 60.04L425.5 60.04L426 60.04L426.5 60.03L427 60.03L427.5 60.03L428 60.02L428.5 60.02L429 60.01L429.5 60L430 60L430.5 59.99L431 59.98L431.5 59.97L432 59.96L432.5 59.95L433 59.93L433.5 59.92L434 59.9L434.5 59.88L435 59.86L435.5 59.84L436 59.81L436.5 59.78L437 59.74L437.5 59.7L438 59.64L438.5 59.57L439 59.47L439.5 59.35L440 59.2L440.5 59.01L441 58.78L441.5 58.5L442 58.18L442.5 57.81L443 57.4L443.5 56.95L444 56.49L444.5 56.01L445 55.53L445.5 55.08L446 54.65L446.5 54.26L447 53.92L447.5 53.63L448 53.41L448.5 53.24L449 53.12L449.5 53.04L450 53.01L450.5 53L451 53L451.5 53.03L452 53.08L452.5 53.18L453 53.33L453.5 53.54L454 53.8L454.5 54.12L455 54.49L455.5 54.9L456 55.35L456.5 55.82L457 56.3L457.5 56.77L458 57.22L458.5 57.65L459 58.03L459.5 58.38L460 58.67L460.5 58.92L461 59.13L461.5 59.3L462 59.43L462.5 59.53L463 59.61L463.5 59.68L464 59.73L464.5 59.77L465 59.8L465.5 59.83L466 59.85L466.5 59.88L467 59.89L467.5 59.91L468 59.93L468.5 59.94L469 59.95L469.5 59.97L470 59.98L470.5 59.99L471 59.99L471.5 60L472 60.01L472.5 60.01L473 60.02L473.5 60.02L474 60.03L474.5 60.03L475 60.03L475.5 60.04L476 60.04L476.5 60.04L477 60.04L477.5 60.04L478 60.04L478.5 60.05L479 60.05L479.5 60.05L480 60.05L480.5 60.05L481 60.05L481.5 60.05L482 60.05L482.5 60.05L483 60.05L483.5 60.05L484 60.05L484.5 60.05L485 60.05L485.5 60.05L486 60.05L486.5 60.05L487 60.05L487.5 60.05L488 60.05L488.5 60.05L489 60.05L489.5 60.05L490 60.05L490.5 60.05L491 60.05L491.5 60.05L492 60.05L492.5 60.05L493 60.05L493.5 60.05L494 60.05L494.5 60.05L495 60.05L495.5 60.05L496 60.05L496.5 60.05L497 60.05L497.5 60.05L498 60.05L498.5 60.05L499 60.05L499.5 60.05L500 60.05L500.5 60.05L501 60.05L501.5 60.05L502 60.05L502.5 60.05L503 60.05L503.5 60.05L504 60.05L504.5 60.05L505 60.05L505.5 60.05L506 60.05L506.5 60.05L507 60.05L507.5 60.05L508 60.05L508.5 60.05L509 60.05L509.5 60.05L510 60.05L510.5 60.05L511 60.05L511 63.1Z" fill="#f01000" filter="url(#b05)"/>
<path d="M390 63.1L390 60.1L390 60.1L390.5 60.1L391 60.1L391.5 60.1L392 60.1L392.5 60.1L393 60.1L393.5 60.1L394 60.1L394.5 60.1L395 60.1L395.5 60.1L396 60.1L396.5 60.1L397 60.1L397.5 60.1L398 60.1L398.5 60.1L399 60.1L399.5 60.1L400 60.1L400.5 60.1L401 60.1L401.5 60.1L402 60.1L402.5 60.1L403 60.1L403.5 60.1L404 60.1L404.5 60.1L405 60.1L405.5 60.1L406 60.1L406.5 60.1L407 60.1L407.5 60.1L408 60.1L408.5 60.1L409 60.1L409.5 60.1L410 60.1L410.5 60.1L411 60.1L411.5 60.1L412 60.1L412.5 60.1L413 60.1L413.5 60.1L414 60.1L414.5 60.1L415 60.1L415.5 60.1L416 60.1L416.5 60.1L417 60.1L417.5 60.1L418 60.1L418.5 60.1L419 60.1L419.5 60.1L420 60.1L420.5 60.1L421 60.1L421.5 60.1L422 60.1L422.5 60.1L423 60.1L423.5 60.1L424 60.1L424.5 60.1L425 60.1L425.5 60.1L426 60.09L426.5 60.09L427 60.09L427.5 60.09L428 60.09L428.5 60.08L429 60.08L429.5 60.08L430 60.07L430.5 60.07L431 60.06L431.5 60.06L432 60.05L432.5 60.04L433 60.03L433.5 60.02L434 60.01L434.5 59.99L435 59.98L435.5 59.96L436 59.95L436.5 59.93L437 59.9L437.5 59.88L438 59.86L438.5 59.83L439 59.8L439.5 59.76L440 59.71L440.5 59.66L441 59.58L441.5 59.47L442 59.34L442.5 59.15L443 58.91L443.5 58.62L444 58.26L444.5 57.85L445 57.39L445.5 56.91L446 56.42L446.5 55.94L447 55.5L447.5 55.11L448 54.79L448.5 54.54L449 54.37L449.5 54.26L450 54.21L450.5 54.2L451 54.2L451.5 54.24L452 54.32L452.5 54.47L453 54.68L453.5 54.97L454 55.33L454.5 55.76L455 56.22L455.5 56.71L456 57.2L456.5 57.67L457 58.1L457.5 58.48L458 58.8L458.5 59.06L459 59.27L459.5 59.42L460 59.54L460.5 59.63L461 59.69L461.5 59.74L462 59.78L462.5 59.82L463 59.85L463.5 59.87L464 59.9L464.5 59.92L465 59.94L465.5 59.96L466 59.97L466.5 59.99L467 60L467.5 60.02L468 60.03L468.5 60.04L469 60.05L469.5 60.05L470 60.06L470.5 60.07L471 60.07L471.5 60.08L472 60.08L472.5 60.08L473 60.09L473.5 60.09L474 60.09L474.5 60.09L475 60.09L475.5 60.09L476 60.1L476.5 60.1L477 60.1L477.5 60.1L478 60.1L478.5 60.1L479 60.1L479.5 60.1L480 60.1L480.5 60.1L481 60.1L481.5 60.1L482 60.1L482.5 60.1L483 60.1L483.5 60.1L484 60.1L484.5 60.1L485 60.1L485.5 60.1L486 60.1L486.5 60.1L487 60.1L487.5 60.1L488 60.1L488.5 60.1L489 60.1L489.5 60.1L490 60.1L490.5 60.1L491 60.1L491.5 60.1L492 60.1L492.5 60.1L493 60.1L493.5 60.1L494 60.1L494.5 60.1L495 60.1L495.5 60.1L496 60.1L496.5 60.1L497 60.1L497.5 60.1L498 60.1L498.5 60.1L499 60.1L499.5 60.1L500 60.1L500.5 60.1L501 60.1L501.5 60.1L502 60.1L502.5 60.1L503 60.1L503.5 60.1L504 60.1L504.5 60.1L505 60.1L505.5 60.1L506 60.1L506.5 60.1L507 60.1L507.5 60.1L508 60.1L508.5 60.1L509 60.1L509.5 60.1L510 60.1L510.5 60.1L511 60.1L511 63.1Z" fill="#860000" filter="url(#b05)"/>
</g>
<rect x="391" y="61.7" width="119" height="0.9" fill="#500060" filter="url(#b05)" opacity="0.8"/>
<ellipse cx="450.6" cy="62.3" rx="2.6" ry="1.4" fill="#50001c" filter="url(#b05)"/>
<ellipse cx="450.6" cy="65.4" rx="4.4" ry="3.6" fill="#0040f0" filter="url(#b2)"/>
<ellipse cx="450.6" cy="64.9" rx="2" ry="1.3" fill="#30d8ff" filter="url(#b05)"/>
<ellipse cx="450.6" cy="64.5" rx="1" ry="0.6" fill="#ffffff" filter="url(#b05)"/>
</g>
<text x="397" y="20" font-size="13.5" fill="#fff" text-anchor="start" stroke="#fff" stroke-width="0.22">(d)</text>
<text x="455.2" y="44.8" font-size="13" fill="#fff" text-anchor="start" stroke="#fff" stroke-width="0.22">1.7 µm</text>
<path d="M474.3 50.6 V62 M471 50.6 H477.6 M471 62 H477.6" stroke="#fff" stroke-width="1.1" fill="none"/>
<text x="422.2" y="100.5" font-size="13.5" fill="#fff" text-anchor="start" stroke="#fff" stroke-width="0.22">Ag + Hole</text>
<text x="422.2" y="115.6" font-size="13.5" fill="#fff" text-anchor="start" stroke="#fff" stroke-width="0.22"><tspan font-style="italic">t</tspan>=110nm</text>
<rect x="514.4" y="2" width="9" height="119.6" fill="url(#jet)"/>
<text x="527.4" y="11" font-size="12.6" fill="#222" text-anchor="start" >1</text>
<text x="526.8" y="64.6" font-size="12.6" fill="#222" text-anchor="start" >0.5</text>
<text x="526.8" y="121.6" font-size="12.6" fill="#222" text-anchor="start" >0</text>
<rect x="38.2" y="132.4" width="240.2" height="77.9" fill="#fff" stroke="#d0d0d0" stroke-width="0.6"/>
<path d="M38.2 210.3 v-1.5 M38.2 132.4 v1.5" stroke="#d0d0d0" stroke-width="0.5"/>
<text transform="translate(37.6 221.6) scale(1.12 1)" font-size="10.3" fill="#2a2a2a" text-anchor="middle" >-1</text>
<path d="M62.22 210.3 v-1.5 M62.22 132.4 v1.5" stroke="#d0d0d0" stroke-width="0.5"/>
<text transform="translate(61.4 221.6) scale(1.12 1)" font-size="10.3" fill="#2a2a2a" text-anchor="middle" >-0.8</text>
<path d="M86.24 210.3 v-1.5 M86.24 132.4 v1.5" stroke="#d0d0d0" stroke-width="0.5"/>
<text transform="translate(85.4 221.6) scale(1.12 1)" font-size="10.3" fill="#2a2a2a" text-anchor="middle" >-0.6</text>
<path d="M110.26 210.3 v-1.5 M110.26 132.4 v1.5" stroke="#d0d0d0" stroke-width="0.5"/>
<text transform="translate(109.4 221.6) scale(1.12 1)" font-size="10.3" fill="#2a2a2a" text-anchor="middle" >-0.4</text>
<path d="M134.28 210.3 v-1.5 M134.28 132.4 v1.5" stroke="#d0d0d0" stroke-width="0.5"/>
<text transform="translate(133.6 221.6) scale(1.12 1)" font-size="10.3" fill="#2a2a2a" text-anchor="middle" >-0.2</text>
<path d="M158.3 210.3 v-1.5 M158.3 132.4 v1.5" stroke="#d0d0d0" stroke-width="0.5"/>
<text transform="translate(158.9 221.6) scale(1.12 1)" font-size="10.3" fill="#2a2a2a" text-anchor="middle" >0</text>
<path d="M182.32 210.3 v-1.5 M182.32 132.4 v1.5" stroke="#d0d0d0" stroke-width="0.5"/>
<text transform="translate(184 221.6) scale(1.12 1)" font-size="10.3" fill="#2a2a2a" text-anchor="middle" >0.2</text>
<path d="M206.34 210.3 v-1.5 M206.34 132.4 v1.5" stroke="#d0d0d0" stroke-width="0.5"/>
<text transform="translate(207.5 221.6) scale(1.12 1)" font-size="10.3" fill="#2a2a2a" text-anchor="middle" >0.4</text>
<path d="M230.36 210.3 v-1.5 M230.36 132.4 v1.5" stroke="#d0d0d0" stroke-width="0.5"/>
<text transform="translate(230.4 221.6) scale(1.12 1)" font-size="10.3" fill="#2a2a2a" text-anchor="middle" >0.6</text>
<path d="M254.38 210.3 v-1.5 M254.38 132.4 v1.5" stroke="#d0d0d0" stroke-width="0.5"/>
<text transform="translate(254.4 221.6) scale(1.12 1)" font-size="10.3" fill="#2a2a2a" text-anchor="middle" >0.8</text>
<path d="M278.4 210.3 v-1.5 M278.4 132.4 v1.5" stroke="#d0d0d0" stroke-width="0.5"/>
<text transform="translate(276.6 221.6) scale(1.12 1)" font-size="10.3" fill="#2a2a2a" text-anchor="middle" >1</text>
<path d="M38.2 132.4 h1.5 M278.4 132.4 h-1.5" stroke="#d0d0d0" stroke-width="0.5"/>
<text transform="translate(28 134.2) scale(1.12 1)" font-size="10.3" fill="#2a2a2a" text-anchor="middle" >1</text>
<path d="M38.2 151.88 h1.5 M278.4 151.88 h-1.5" stroke="#d0d0d0" stroke-width="0.5"/>
<text transform="translate(27.4 154.4) scale(1.12 1)" font-size="10.3" fill="#2a2a2a" text-anchor="middle" >0.5</text>
<path d="M38.2 171.35 h1.5 M278.4 171.35 h-1.5" stroke="#d0d0d0" stroke-width="0.5"/>
<text transform="translate(26.6 172.6) scale(1.12 1)" font-size="10.3" fill="#2a2a2a" text-anchor="middle" >0</text>
<path d="M38.2 190.83 h1.5 M278.4 190.83 h-1.5" stroke="#d0d0d0" stroke-width="0.5"/>
<text transform="translate(25.4 191.7) scale(1.12 1)" font-size="10.3" fill="#2a2a2a" text-anchor="middle" >-0.5</text>
<path d="M38.2 210.3 h1.5 M278.4 210.3 h-1.5" stroke="#d0d0d0" stroke-width="0.5"/>
<text transform="translate(27.4 210.5) scale(1.12 1)" font-size="10.3" fill="#2a2a2a" text-anchor="middle" >-1</text>
<text x="157" y="234" font-size="11.6" fill="#2a2a2a" text-anchor="middle" >x (µm)</text>
<text transform="translate(14.4 168.2) rotate(-90)" font-size="11.6" fill="#2a2a2a" text-anchor="middle" xml:space="preserve"><tspan font-style="italic">E</tspan> (x)  (a.u.)</text>
<path d="M158.2 132.4 V210.3" stroke="#6e5e58" stroke-width="1.1"/>
<g clip-path="url(#clipE)" fill="none" stroke-linejoin="round">
<path d="M38.2 160.39L38.6 162.33L39 164.33L39.4 166.37L39.8 168.44L40.2 170.52L40.6 172.6L41 174.65L41.4 176.68L41.8 178.65L42.2 180.56L42.6 182.4L43 184.14L43.4 185.78L43.8 187.31L44.2 188.7L44.6 189.97L45 191.08L45.4 192.05L45.8 192.85L46.2 193.49L46.6 193.95L47 194.24L47.4 194.36L47.8 194.29L48.2 194.05L48.6 193.64L49 193.05L49.4 192.29L49.8 191.38L50.2 190.3L50.6 189.08L51 187.72L51.4 186.24L51.8 184.63L52.2 182.92L52.6 181.11L53 179.23L53.4 177.28L53.8 175.27L54.2 173.23L54.6 171.17L55 169.09L55.4 167.03L55.8 164.99L56.2 162.98L56.6 161.03L57 159.14L57.4 157.34L57.8 155.62L58.2 154.01L58.6 152.52L59 151.16L59.4 149.93L59.8 148.86L60.2 147.93L60.6 147.17L61 146.57L61.4 146.15L61.8 145.9L62.2 145.82L62.6 145.92L63 146.2L63.4 146.65L63.8 147.27L64.2 148.05L64.6 148.99L65 150.09L65.4 151.33L65.8 152.7L66.2 154.2L66.6 155.82L67 157.53L67.4 159.34L67.8 161.22L68.2 163.16L68.6 165.16L69 167.18L69.4 169.23L69.8 171.28L70.2 173.32L70.6 175.33L71 177.31L71.4 179.23L71.8 181.08L72.2 182.85L72.6 184.52L73 186.09L73.4 187.54L73.8 188.86L74.2 190.04L74.6 191.07L75 191.96L75.4 192.68L75.8 193.23L76.2 193.62L76.6 193.83L77 193.87L77.4 193.74L77.8 193.43L78.2 192.95L78.6 192.31L79 191.5L79.4 190.54L79.8 189.43L80.2 188.18L80.6 186.8L81 185.3L81.4 183.69L81.8 181.97L82.2 180.18L82.6 178.31L83 176.38L83.4 174.4L83.8 172.4L84.2 170.38L84.6 168.36L85 166.35L85.4 164.37L85.8 162.43L86.2 160.55L86.6 158.74L87 157.01L87.4 155.38L87.8 153.86L88.2 152.45L88.6 151.17L89 150.03L89.4 149.04L89.8 148.2L90.2 147.52L90.6 147L91 146.65L91.4 146.47L91.8 146.46L92.2 146.63L92.6 146.96L93 147.46L93.4 148.13L93.8 148.95L94.2 149.92L94.6 151.04L95 152.3L95.4 153.69L95.8 155.19L96.2 156.8L96.6 158.51L97 160.29L97.4 162.15L97.8 164.06L98.2 166.02L98.6 168L99 170L99.4 172L99.8 173.98L100.2 175.93L100.6 177.83L101 179.68L101.4 181.46L101.8 183.15L102.2 184.74L102.6 186.23L103 187.6L103.4 188.84L103.8 189.94L104.2 190.9L104.6 191.71L105 192.35L105.4 192.84L105.8 193.16L106.2 193.3L106.6 193.28L107 193.1L107.4 192.74L107.8 192.21L108.2 191.53L108.6 190.69L109 189.7L109.4 188.57L109.8 187.3L110.2 185.9L110.6 184.4L111 182.78L111.4 181.08L111.8 179.29L112.2 177.44L112.6 175.53L113 173.58L113.4 171.61L113.8 169.63L114.2 167.65L114.6 165.68L115 163.75L115.4 161.87L115.8 160.04L116.2 158.29L116.6 156.62L117 155.05L117.4 153.58L117.8 152.24L118.2 151.03L118.6 149.95L119 149.02L119.4 148.24L119.8 147.62L120.2 147.17L120.6 146.88L121 146.76L121.4 146.8L121.8 147.02L122.2 147.4L122.6 147.95L123 148.65L123.4 149.52L123.8 150.53L124.2 151.68L124.6 152.97L125 154.38L125.4 155.91L125.8 157.53L126.2 159.25L126.6 161.05L127 162.91L127.4 164.83L127.8 166.78L128.2 168.76L128.6 170.75L129 172.73L129.4 174.69L129.8 176.62L130.2 178.5L130.6 180.32L131 182.07L131.4 183.73L131.8 185.29L132.2 186.75L132.6 188.08L133 189.28L133.4 190.35L133.8 191.27L134.2 192.03L134.6 192.64L135 193.09L135.4 193.37L135.8 193.48L136.2 193.43L136.6 193.21L137 192.83L137.4 192.28L137.8 191.57L138.2 190.71L138.6 189.7L139 188.54L139.4 187.25L139.8 185.83L140.2 184.29L140.6 182.64L141 180.89L141.4 179.05L141.8 177.12L142.2 175.12L142.6 173.06L143 170.94L143.4 168.78L143.8 166.59L144.2 164.38L144.6 162.16L145 159.94L145.4 157.73L145.8 155.55L146.2 153.41L146.6 151.32L147 149.3L147.4 147.36L147.8 145.51L148.2 143.78L148.6 142.19L149 140.74L149.4 139.46L149.8 138.37L150.2 137.48L150.6 136.81L151 136.38L151.4 136.21L151.8 136.3L152.2 136.67L152.6 137.32L153 138.27L153.4 139.51L153.8 141.05L154.2 142.87L154.6 144.97L155 147.32L155.4 149.93L155.8 152.75L156.2 155.77L156.6 158.95L157 162.26L157.4 165.67L157.8 169.13L158.2 172.61L158.6 176.07L159 179.47L159.4 182.77L159.8 185.94L160.2 188.95L160.6 191.75L161 194.33L161.4 196.65L161.8 198.71L162.2 200.49L162.6 201.97L163 203.15L163.4 204.04L163.8 204.61L164.2 204.9L164.6 204.9L165 204.62L165.4 204.09L165.8 203.31L166.2 202.3L166.6 201.09L167 199.69L167.4 198.11L167.8 196.39L168.2 194.54L168.6 192.57L169 190.5L169.4 188.36L169.8 186.15L170.2 183.9L170.6 181.61L171 179.31L171.4 177L171.8 174.69L172.2 172.4L172.6 170.14L173 167.92L173.4 165.75L173.8 163.64L174.2 161.6L174.6 159.65L175 157.78L175.4 156.02L175.8 154.36L176.2 152.83L176.6 151.42L177 150.15L177.4 149.03L177.8 148.05L178.2 147.23L178.6 146.57L179 146.08L179.4 145.76L179.8 145.61L180.2 145.64L180.6 145.84L181 146.21L181.4 146.75L181.8 147.46L182.2 148.33L182.6 149.35L183 150.53L183.4 151.84L183.8 153.29L184.2 154.86L184.6 156.53L185 158.31L185.4 160.17L185.8 162.1L186.2 164.09L186.6 166.12L187 168.18L187.4 170.26L187.8 172.33L188.2 174.39L188.6 176.42L189 178.4L189.4 180.31L189.8 182.16L190.2 183.91L190.6 185.57L191 187.11L191.4 188.53L191.8 189.81L192.2 190.95L192.6 191.94L193 192.76L193.4 193.42L193.8 193.91L194.2 194.23L194.6 194.37L195 194.33L195.4 194.12L195.8 193.73L196.2 193.16L196.6 192.43L197 191.53L197.4 190.48L197.8 189.28L198.2 187.94L198.6 186.46L199 184.87L199.4 183.17L199.8 181.37L200.2 179.49L200.6 177.55L201 175.54L201.4 173.5L201.8 171.43L202.2 169.35L202.6 167.28L203 165.22L203.4 163.2L203.8 161.23L204.2 159.33L204.6 157.5L205 155.77L205.4 154.14L205.8 152.62L206.2 151.23L206.6 149.98L207 148.88L207.4 147.93L207.8 147.14L208.2 146.51L208.6 146.06L209 145.78L209.4 145.68L209.8 145.76L210.2 146.01L210.6 146.44L211 147.04L211.4 147.8L211.8 148.73L212.2 149.81L212.6 151.04L213 152.41L213.4 153.9L213.8 155.51L214.2 157.22L214.6 159.03L215 160.92L215.4 162.87L215.8 164.87L216.2 166.91L216.6 168.97L217 171.03L217.4 173.09L217.8 175.12L218.2 177.12L218.6 179.06L219 180.94L219.4 182.73L219.8 184.43L220.2 186.03L220.6 187.51L221 188.86L221.4 190.07L221.8 191.13L222.2 192.04L222.6 192.79L223 193.37L223.4 193.78L223.8 194.02L224.2 194.09L224.6 193.97L225 193.69L225.4 193.23L225.8 192.6L226.2 191.81L226.6 190.86L227 189.76L227.4 188.51L227.8 187.14L228.2 185.64L228.6 184.02L229 182.31L229.4 180.5L229.8 178.62L230.2 176.68L230.6 174.7L231 172.68L231.4 170.64L231.8 168.6L232.2 166.57L232.6 164.56L233 162.6L233.4 160.7L233.8 158.86L234.2 157.1L234.6 155.44L235 153.89L235.4 152.46L235.8 151.15L236.2 149.98L236.6 148.96L237 148.1L237.4 147.39L237.8 146.85L238.2 146.47L238.6 146.27L239 146.24L239.4 146.39L239.8 146.7L240.2 147.19L240.6 147.84L241 148.65L241.4 149.62L241.8 150.73L242.2 151.98L242.6 153.37L243 154.87L243.4 156.48L243.8 158.19L244.2 159.98L244.6 161.85L245 163.77L245.4 165.74L245.8 167.74L246.2 169.75L246.6 171.76L247 173.76L247.4 175.73L247.8 177.65L248.2 179.52L248.6 181.32L249 183.04L249.4 184.66L249.8 186.17L250.2 187.56L250.6 188.82L251 189.95L251.4 190.93L251.8 191.76L252.2 192.43L252.6 192.93L253 193.27L253.4 193.44L253.8 193.44L254.2 193.27L254.6 192.92L255 192.42L255.4 191.75L255.8 190.92L256.2 189.94L256.6 188.81L257 187.55L257.4 186.16L257.8 184.66L258.2 183.05L258.6 181.35L259 179.56L259.4 177.71L259.8 175.8L260.2 173.84L260.6 171.87L261 169.88L261.4 167.89L261.8 165.91L262.2 163.97L262.6 162.07L263 160.23L263.4 158.47L263.8 156.78L264.2 155.2L264.6 153.72L265 152.36L265.4 151.13L265.8 150.04L266.2 149.09L266.6 148.3L267 147.66L267.4 147.18L267.8 146.88L268.2 146.74L268.6 146.76L269 146.96L269.4 147.33L269.8 147.86L270.2 148.55L270.6 149.4L271 150.39L271.4 151.53L271.8 152.81L272.2 154.21L272.6 155.72L273 157.33L273.4 159.04L273.8 160.83L274.2 162.69L274.6 164.59L275 166.54L275.4 168.51L275.8 170.5L276.2 172.48L276.6 174.44L277 176.37L277.4 178.25L277.8 180.07L278.2 181.82" stroke="#cc1c1c" stroke-width="1.4"/>
<path d="M38.2 201.37L38.6 202.58L39 203.56L39.4 204.31L39.8 204.82L40.2 205.08L40.6 205.1L41 204.87L41.4 204.4L41.8 203.69L42.2 202.74L42.6 201.56L43 200.16L43.4 198.54L43.8 196.73L44.2 194.73L44.6 192.56L45 190.23L45.4 187.76L45.8 185.17L46.2 182.47L46.6 179.69L47 176.85L47.4 173.96L47.8 171.05L48.2 168.14L48.6 165.25L49 162.4L49.4 159.61L49.8 156.9L50.2 154.3L50.6 151.82L51 149.47L51.4 147.29L51.8 145.27L52.2 143.45L52.6 141.82L53 140.41L53.4 139.22L53.8 138.26L54.2 137.55L54.6 137.08L55 136.85L55.4 136.88L55.8 137.16L56.2 137.69L56.6 138.46L57 139.48L57.4 140.72L57.8 142.2L58.2 143.88L58.6 145.77L59 147.84L59.4 150.09L59.8 152.5L60.2 155.04L60.6 157.71L61 160.47L61.4 163.33L61.8 166.24L62.2 169.19L62.6 172.16L63 175.13L63.4 178.07L63.8 180.97L64.2 183.8L64.6 186.54L65 189.17L65.4 191.68L65.8 194.04L66.2 196.24L66.6 198.26L67 200.09L67.4 201.7L67.8 203.1L68.2 204.27L68.6 205.2L69 205.88L69.4 206.32L69.8 206.5L70.2 206.42L70.6 206.09L71 205.5L71.4 204.66L71.8 203.58L72.2 202.27L72.6 200.72L73 198.97L73.4 197L73.8 194.85L74.2 192.53L74.6 190.05L75 187.43L75.4 184.69L75.8 181.85L76.2 178.93L76.6 175.95L77 172.93L77.4 169.9L77.8 166.88L78.2 163.88L78.6 160.94L79 158.07L79.4 155.29L79.8 152.63L80.2 150.1L80.6 147.72L81 145.51L81.4 143.49L81.8 141.67L82.2 140.06L82.6 138.68L83 137.53L83.4 136.63L83.8 135.98L84.2 135.59L84.6 135.46L85 135.58L85.4 135.97L85.8 136.62L86.2 137.52L86.6 138.67L87 140.05L87.4 141.67L87.8 143.5L88.2 145.54L88.6 147.77L89 150.17L89.4 152.72L89.8 155.42L90.2 158.23L90.6 161.15L91 164.14L91.4 167.18L91.8 170.26L92.2 173.35L92.6 176.43L93 179.47L93.4 182.46L93.8 185.37L94.2 188.18L94.6 190.87L95 193.42L95.4 195.81L95.8 198.03L96.2 200.06L96.6 201.87L97 203.47L97.4 204.83L97.8 205.96L98.2 206.83L98.6 207.44L99 207.79L99.4 207.87L99.8 207.69L100.2 207.25L100.6 206.54L101 205.57L101.4 204.36L101.8 202.9L102.2 201.21L102.6 199.3L103 197.19L103.4 194.89L103.8 192.41L104.2 189.77L104.6 187L105 184.11L105.4 181.13L105.8 178.07L106.2 174.96L106.6 171.81L107 168.67L107.4 165.54L107.8 162.44L108.2 159.41L108.6 156.46L109 153.62L109.4 150.91L109.8 148.34L110.2 145.93L110.6 143.71L111 141.68L111.4 139.87L111.8 138.29L112.2 136.95L112.6 135.85L113 135.01L113.4 134.44L113.8 134.13L114.2 134.1L114.6 134.33L115 134.84L115.4 135.61L115.8 136.64L116.2 137.93L116.6 139.46L117 141.22L117.4 143.21L117.8 145.4L118.2 147.78L118.6 150.34L119 153.05L119.4 155.9L119.8 158.86L120.2 161.92L120.6 165.04L121 168.22L121.4 171.42L121.8 174.63L122.2 177.81L122.6 180.95L123 184.03L123.4 187.01L123.8 189.88L124.2 192.62L124.6 195.21L125 197.63L125.4 199.85L125.8 201.88L126.2 203.68L126.6 205.25L127 206.57L127.4 207.63L127.8 208.44L128.2 208.97L128.6 209.23L129 209.21L129.4 208.92L129.8 208.36L130.2 207.52L130.6 206.42L131 205.06L131.4 203.46L131.8 201.62L132.2 199.56L132.6 197.29L133 194.82L133.4 192.19L133.8 189.4L134.2 186.48L134.6 183.44L135 180.31L135.4 177.11L135.8 173.87L136.2 170.61L136.6 167.35L137 164.11L137.4 160.92L137.8 157.81L138.2 154.79L138.6 151.88L139 149.12L139.4 146.51L139.8 144.08L140.2 141.84L140.6 139.81L141 138.01L141.4 136.44L141.8 135.11L142.2 134.04L142.6 133.23L143 132.68L143.4 132.41L143.8 132.39L144.2 132.65L144.6 133.17L145 133.94L145.4 134.97L145.8 136.25L146.2 137.77L146.6 139.52L147 141.5L147.4 143.71L147.8 146.13L148.2 148.77L148.6 151.61L149 154.67L149.4 157.93L149.8 161.4L150.2 165.07L150.6 168.94L151 172.99L151.4 177.22L151.8 181.62L152.2 186.15L152.6 190.79L153 195.5L153.4 200.24L153.8 204.96L154.2 209.59L154.6 214.09L155 218.36L155.4 222.36L155.8 226L156.2 229.22L156.6 231.96L157 234.16L157.4 235.76L157.8 236.75L158.2 237.09L158.6 236.75L159 235.76L159.4 234.16L159.8 231.96L160.2 229.22L160.6 226L161 222.36L161.4 218.36L161.8 214.09L162.2 209.59L162.6 204.96L163 200.24L163.4 195.5L163.8 190.79L164.2 186.15L164.6 181.62L165 177.22L165.4 172.99L165.8 168.94L166.2 165.07L166.6 161.4L167 157.93L167.4 154.67L167.8 151.61L168.2 148.77L168.6 146.13L169 143.71L169.4 141.5L169.8 139.52L170.2 137.77L170.6 136.25L171 134.97L171.4 133.94L171.8 133.17L172.2 132.65L172.6 132.39L173 132.41L173.4 132.68L173.8 133.23L174.2 134.04L174.6 135.11L175 136.44L175.4 138.01L175.8 139.81L176.2 141.84L176.6 144.08L177 146.51L177.4 149.12L177.8 151.88L178.2 154.79L178.6 157.81L179 160.92L179.4 164.11L179.8 167.35L180.2 170.61L180.6 173.87L181 177.11L181.4 180.31L181.8 183.44L182.2 186.48L182.6 189.4L183 192.19L183.4 194.82L183.8 197.29L184.2 199.56L184.6 201.62L185 203.46L185.4 205.06L185.8 206.42L186.2 207.52L186.6 208.36L187 208.92L187.4 209.21L187.8 209.23L188.2 208.97L188.6 208.44L189 207.63L189.4 206.57L189.8 205.25L190.2 203.68L190.6 201.88L191 199.85L191.4 197.63L191.8 195.21L192.2 192.62L192.6 189.88L193 187.01L193.4 184.03L193.8 180.95L194.2 177.81L194.6 174.63L195 171.42L195.4 168.22L195.8 165.04L196.2 161.92L196.6 158.86L197 155.9L197.4 153.05L197.8 150.34L198.2 147.78L198.6 145.4L199 143.21L199.4 141.22L199.8 139.46L200.2 137.93L200.6 136.64L201 135.61L201.4 134.84L201.8 134.33L202.2 134.1L202.6 134.13L203 134.44L203.4 135.01L203.8 135.85L204.2 136.95L204.6 138.29L205 139.87L205.4 141.68L205.8 143.71L206.2 145.93L206.6 148.34L207 150.91L207.4 153.62L207.8 156.46L208.2 159.41L208.6 162.44L209 165.54L209.4 168.67L209.8 171.81L210.2 174.96L210.6 178.07L211 181.13L211.4 184.11L211.8 187L212.2 189.77L212.6 192.41L213 194.89L213.4 197.19L213.8 199.3L214.2 201.21L214.6 202.9L215 204.36L215.4 205.57L215.8 206.54L216.2 207.25L216.6 207.69L217 207.87L217.4 207.79L217.8 207.44L218.2 206.83L218.6 205.96L219 204.83L219.4 203.47L219.8 201.87L220.2 200.06L220.6 198.03L221 195.81L221.4 193.42L221.8 190.87L222.2 188.18L222.6 185.37L223 182.46L223.4 179.47L223.8 176.43L224.2 173.35L224.6 170.26L225 167.18L225.4 164.14L225.8 161.15L226.2 158.23L226.6 155.42L227 152.72L227.4 150.17L227.8 147.77L228.2 145.54L228.6 143.5L229 141.67L229.4 140.05L229.8 138.67L230.2 137.52L230.6 136.62L231 135.97L231.4 135.58L231.8 135.46L232.2 135.59L232.6 135.98L233 136.63L233.4 137.53L233.8 138.68L234.2 140.06L234.6 141.67L235 143.49L235.4 145.51L235.8 147.72L236.2 150.1L236.6 152.63L237 155.29L237.4 158.07L237.8 160.94L238.2 163.88L238.6 166.88L239 169.9L239.4 172.93L239.8 175.95L240.2 178.93L240.6 181.85L241 184.69L241.4 187.43L241.8 190.05L242.2 192.53L242.6 194.85L243 197L243.4 198.97L243.8 200.72L244.2 202.27L244.6 203.58L245 204.66L245.4 205.5L245.8 206.09L246.2 206.42L246.6 206.5L247 206.32L247.4 205.88L247.8 205.2L248.2 204.27L248.6 203.1L249 201.7L249.4 200.09L249.8 198.26L250.2 196.24L250.6 194.04L251 191.68L251.4 189.17L251.8 186.54L252.2 183.8L252.6 180.97L253 178.07L253.4 175.13L253.8 172.16L254.2 169.19L254.6 166.24L255 163.33L255.4 160.47L255.8 157.71L256.2 155.04L256.6 152.5L257 150.09L257.4 147.84L257.8 145.77L258.2 143.88L258.6 142.2L259 140.72L259.4 139.48L259.8 138.46L260.2 137.69L260.6 137.16L261 136.88L261.4 136.85L261.8 137.08L262.2 137.55L262.6 138.26L263 139.22L263.4 140.41L263.8 141.82L264.2 143.45L264.6 145.27L265 147.29L265.4 149.47L265.8 151.82L266.2 154.3L266.6 156.9L267 159.61L267.4 162.4L267.8 165.25L268.2 168.14L268.6 171.05L269 173.96L269.4 176.85L269.8 179.69L270.2 182.47L270.6 185.17L271 187.76L271.4 190.23L271.8 192.56L272.2 194.73L272.6 196.73L273 198.54L273.4 200.16L273.8 201.56L274.2 202.74L274.6 203.69L275 204.4L275.4 204.87L275.8 205.1L276.2 205.08L276.6 204.82L277 204.31L277.4 203.56L277.8 202.58L278.2 201.37" stroke="#1010a8" stroke-width="1.4"/>
</g>
<text x="72" y="144.6" font-size="13.4" fill="#222" text-anchor="middle" >(e)</text>
<rect x="303.3" y="132.4" width="241.6" height="77.9" fill="#fff" stroke="#d0d0d0" stroke-width="0.6"/>
<path d="M303.3 210.3 v-1.5 M303.3 132.4 v1.5" stroke="#d0d0d0" stroke-width="0.5"/>
<text transform="translate(304.8 221.6) scale(1.12 1)" font-size="10.3" fill="#2a2a2a" text-anchor="middle" >-2</text>
<path d="M333.5 210.3 v-1.5 M333.5 132.4 v1.5" stroke="#d0d0d0" stroke-width="0.5"/>
<text transform="translate(337.2 221.6) scale(1.12 1)" font-size="10.3" fill="#2a2a2a" text-anchor="middle" >-1.5</text>
<path d="M363.7 210.3 v-1.5 M363.7 132.4 v1.5" stroke="#d0d0d0" stroke-width="0.5"/>
<text transform="translate(364.3 221.6) scale(1.12 1)" font-size="10.3" fill="#2a2a2a" text-anchor="middle" >-1</text>
<path d="M393.9 210.3 v-1.5 M393.9 132.4 v1.5" stroke="#d0d0d0" stroke-width="0.5"/>
<text transform="translate(397.6 221.6) scale(1.12 1)" font-size="10.3" fill="#2a2a2a" text-anchor="middle" >-0.5</text>
<path d="M424.1 210.3 v-1.5 M424.1 132.4 v1.5" stroke="#d0d0d0" stroke-width="0.5"/>
<text transform="translate(424.3 221.6) scale(1.12 1)" font-size="10.3" fill="#2a2a2a" text-anchor="middle" >0</text>
<path d="M454.3 210.3 v-1.5 M454.3 132.4 v1.5" stroke="#d0d0d0" stroke-width="0.5"/>
<text transform="translate(456.8 221.6) scale(1.12 1)" font-size="10.3" fill="#2a2a2a" text-anchor="middle" >0.5</text>
<path d="M484.5 210.3 v-1.5 M484.5 132.4 v1.5" stroke="#d0d0d0" stroke-width="0.5"/>
<text transform="translate(484.4 221.6) scale(1.12 1)" font-size="10.3" fill="#2a2a2a" text-anchor="middle" >1</text>
<path d="M514.7 210.3 v-1.5 M514.7 132.4 v1.5" stroke="#d0d0d0" stroke-width="0.5"/>
<text transform="translate(517.2 221.6) scale(1.12 1)" font-size="10.3" fill="#2a2a2a" text-anchor="middle" >1.5</text>
<path d="M544.9 210.3 v-1.5 M544.9 132.4 v1.5" stroke="#d0d0d0" stroke-width="0.5"/>
<text transform="translate(544.4 221.6) scale(1.12 1)" font-size="10.3" fill="#2a2a2a" text-anchor="middle" >2</text>
<path d="M303.3 132.4 h1.5 M544.9 132.4 h-1.5" stroke="#d0d0d0" stroke-width="0.5"/>
<text transform="translate(293.6 135.1) scale(1.12 1)" font-size="10.3" fill="#2a2a2a" text-anchor="middle" >1</text>
<path d="M303.3 151.88 h1.5 M544.9 151.88 h-1.5" stroke="#d0d0d0" stroke-width="0.5"/>
<text transform="translate(292.2 154.5) scale(1.12 1)" font-size="10.3" fill="#2a2a2a" text-anchor="middle" >0.5</text>
<path d="M303.3 171.35 h1.5 M544.9 171.35 h-1.5" stroke="#d0d0d0" stroke-width="0.5"/>
<text transform="translate(293.6 173.7) scale(1.12 1)" font-size="10.3" fill="#2a2a2a" text-anchor="middle" >0</text>
<path d="M303.3 190.83 h1.5 M544.9 190.83 h-1.5" stroke="#d0d0d0" stroke-width="0.5"/>
<text transform="translate(290.8 192.6) scale(1.12 1)" font-size="10.3" fill="#2a2a2a" text-anchor="middle" >-0.5</text>
<path d="M303.3 210.3 h1.5 M544.9 210.3 h-1.5" stroke="#d0d0d0" stroke-width="0.5"/>
<text transform="translate(292.6 211) scale(1.12 1)" font-size="10.3" fill="#2a2a2a" text-anchor="middle" >-1</text>
<text x="423.4" y="233.6" font-size="11.6" fill="#2a2a2a" text-anchor="middle" >x (µm)</text>
<g clip-path="url(#clipF)" fill="none" stroke-linejoin="round">
<path d="M292.5 143.54L293.01 143.63L293.52 143.88L294.03 144.31L294.54 144.9L295.05 145.65L295.56 146.57L296.07 147.63L296.58 148.85L297.09 150.2L297.6 151.68L298.11 153.28L298.62 154.99L299.13 156.81L299.64 158.71L300.15 160.69L300.66 162.74L301.17 164.84L301.68 166.98L302.19 169.14L302.7 171.32L303.21 173.5L303.72 175.67L304.23 177.81L304.74 179.91L305.25 181.96L305.76 183.94L306.27 185.84L306.78 187.65L307.29 189.37L307.8 190.97L308.31 192.45L308.82 193.8L309.33 195.01L309.84 196.08L310.35 196.99L310.86 197.75L311.37 198.34L311.88 198.76L312.39 199.02L312.9 199.11L313.41 199.02L313.92 198.78L314.43 198.37L314.94 197.79L315.45 197.06L315.96 196.18L316.47 195.15L316.98 193.98L317.49 192.67L318 191.24L318.51 189.68L319.02 188.02L319.53 186.25L320.04 184.4L320.55 182.46L321.06 180.46L321.57 178.41L322.08 176.31L322.59 174.17L323.1 172.02L323.6 169.87L324.11 167.72L324.62 165.58L325.13 163.48L325.64 161.43L326.15 159.43L326.66 157.49L327.17 155.64L327.68 153.87L328.19 152.21L328.7 150.65L329.21 149.22L329.72 147.91L330.23 146.74L330.74 145.71L331.25 144.83L331.76 144.1L332.27 143.52L332.78 143.11L333.29 142.87L333.8 142.78L334.3 142.88L334.81 143.16L335.31 143.64L335.81 144.29L336.31 145.13L336.82 146.14L337.32 147.32L337.82 148.66L338.32 150.15L338.83 151.79L339.33 153.55L339.83 155.44L340.33 157.43L340.84 159.52L341.34 161.69L341.84 163.93L342.34 166.22L342.85 168.55L343.35 170.9L343.85 173.26L344.35 175.61L344.86 177.94L345.36 180.23L345.86 182.47L346.36 184.64L346.87 186.73L347.37 188.72L347.87 190.61L348.37 192.37L348.88 194.01L349.38 195.5L349.88 196.84L350.38 198.02L350.89 199.03L351.39 199.87L351.89 200.52L352.39 200.99L352.9 201.28L353.4 201.37L353.9 201.28L354.4 201L354.91 200.54L355.41 199.9L355.91 199.09L356.41 198.1L356.92 196.94L357.42 195.63L357.92 194.16L358.42 192.55L358.93 190.81L359.43 188.95L359.93 186.97L360.43 184.89L360.94 182.72L361.44 180.48L361.94 178.17L362.44 175.82L362.95 173.43L363.45 171.02L363.95 168.6L364.45 166.19L364.96 163.8L365.46 161.45L365.96 159.14L366.46 156.9L366.97 154.73L367.47 152.65L367.97 150.68L368.47 148.81L368.98 147.07L369.48 145.46L369.98 143.99L370.48 142.68L370.99 141.53L371.49 140.54L371.99 139.72L372.49 139.08L373 138.62L373.5 138.34L374 138.25L374.51 138.35L375.01 138.67L375.52 139.2L376.03 139.93L376.54 140.87L377.04 142L377.55 143.32L378.06 144.82L378.57 146.5L379.07 148.34L379.58 150.33L380.09 152.46L380.6 154.72L381.1 157.1L381.61 159.58L382.12 162.14L382.62 164.78L383.13 167.47L383.64 170.21L384.15 172.96L384.65 175.73L385.16 178.49L385.67 181.22L386.18 183.91L386.68 186.55L387.19 189.11L387.7 191.59L388.2 193.97L388.71 196.23L389.22 198.36L389.73 200.36L390.23 202.2L390.74 203.87L391.25 205.38L391.76 206.7L392.26 207.83L392.77 208.76L393.28 209.5L393.79 210.02L394.29 210.34L394.8 210.45L395.3 210.32L395.8 209.96L396.31 209.35L396.81 208.5L397.31 207.42L397.81 206.11L398.31 204.56L398.82 202.8L399.32 200.82L399.82 198.64L400.32 196.26L400.82 193.7L401.33 190.95L401.83 188.04L402.33 184.97L402.83 181.76L403.33 178.42L403.84 174.96L404.34 171.39L404.84 167.74L405.34 164.01L405.84 160.22L406.35 156.39L406.85 152.52L407.35 148.64L407.85 144.76L408.35 140.9L408.86 137.06L409.36 133.27L409.86 129.54L410.36 125.89L410.86 122.33L411.37 118.87L411.87 115.53L412.37 112.32L412.87 109.25L413.37 106.34L413.88 103.59L414.38 101.02L414.88 98.64L415.38 96.46L415.88 94.48L416.39 92.72L416.89 91.18L417.39 89.86L417.89 88.78L418.39 87.93L418.9 87.33L419.4 86.96L419.9 86.84" stroke="#cc1c1c" stroke-width="1.4"/>
<path d="M428 253.16L428.51 253.05L429.01 252.7L429.52 252.13L430.02 251.33L430.53 250.31L431.04 249.08L431.54 247.62L432.05 245.96L432.55 244.1L433.06 242.04L433.56 239.8L434.07 237.38L434.58 234.78L435.08 232.03L435.59 229.13L436.09 226.09L436.6 222.92L437.11 219.64L437.61 216.25L438.12 212.78L438.62 209.23L439.13 205.62L439.64 201.96L440.14 198.26L440.65 194.54L441.15 190.82L441.66 187.1L442.16 183.4L442.67 179.74L443.18 176.13L443.68 172.58L444.19 169.11L444.69 165.72L445.2 162.44L445.71 159.27L446.21 156.23L446.72 153.33L447.22 150.58L447.73 147.98L448.24 145.56L448.74 143.32L449.25 141.26L449.75 139.4L450.26 137.74L450.76 136.28L451.27 135.05L451.78 134.03L452.28 133.23L452.79 132.66L453.29 132.31L453.8 132.2L454.31 132.32L454.82 132.67L455.32 133.24L455.83 134.05L456.34 135.07L456.85 136.31L457.35 137.76L457.86 139.4L458.37 141.23L458.88 143.23L459.38 145.4L459.89 147.71L460.4 150.16L460.91 152.72L461.42 155.38L461.92 158.12L462.43 160.93L462.94 163.78L463.45 166.66L463.95 169.56L464.46 172.44L464.97 175.29L465.48 178.1L465.98 180.84L466.49 183.5L467 186.06L467.51 188.51L468.02 190.82L468.52 192.99L469.03 194.99L469.54 196.82L470.05 198.46L470.55 199.91L471.06 201.15L471.57 202.17L472.08 202.98L472.58 203.55L473.09 203.9L473.6 204.02L474.11 203.92L474.62 203.64L475.13 203.16L475.64 202.5L476.15 201.66L476.66 200.64L477.17 199.45L477.68 198.1L478.19 196.59L478.7 194.94L479.21 193.15L479.72 191.24L480.23 189.22L480.74 187.1L481.25 184.89L481.76 182.6L482.27 180.26L482.78 177.87L483.29 175.46L483.8 173.02L484.31 170.59L484.82 168.18L485.33 165.79L485.84 163.45L486.35 161.16L486.86 158.95L487.37 156.83L487.88 154.81L488.39 152.89L488.9 151.11L489.41 149.45L489.92 147.95L490.43 146.6L490.94 145.41L491.45 144.39L491.96 143.55L492.47 142.88L492.98 142.41L493.49 142.12L494 142.03L494.51 142.11L495.01 142.37L495.52 142.79L496.03 143.38L496.54 144.14L497.04 145.05L497.55 146.12L498.06 147.33L498.57 148.68L499.07 150.16L499.58 151.77L500.09 153.49L500.6 155.31L501.1 157.23L501.61 159.23L502.12 161.3L502.62 163.42L503.13 165.59L503.64 167.8L504.15 170.02L504.65 172.25L505.16 174.47L505.67 176.68L506.18 178.85L506.68 180.97L507.19 183.04L507.7 185.04L508.2 186.96L508.71 188.78L509.22 190.5L509.73 192.11L510.23 193.59L510.74 194.94L511.25 196.15L511.76 197.22L512.26 198.13L512.77 198.88L513.28 199.47L513.79 199.9L514.29 200.15L514.8 200.24L515.31 200.15L515.82 199.88L516.33 199.43L516.84 198.8L517.35 198L517.86 197.04L518.37 195.91L518.88 194.63L519.39 193.21L519.9 191.64L520.41 189.96L520.92 188.16L521.43 186.25L521.94 184.26L522.45 182.19L522.96 180.05L523.47 177.86L523.98 175.64L524.49 173.39L525.01 171.14L525.52 168.9L526.03 166.67L526.54 164.49L527.05 162.35L527.56 160.28L528.07 158.28L528.58 156.38L529.09 154.58L529.6 152.89L530.11 151.33L530.62 149.91L531.13 148.63L531.64 147.5L532.15 146.53L532.66 145.74L533.17 145.11L533.68 144.66L534.19 144.39L534.7 144.3L535.21 144.38L535.72 144.62L536.22 145.03L536.73 145.6L537.24 146.32L537.75 147.2L538.25 148.22L538.76 149.38L539.27 150.67L539.78 152.08L540.28 153.6L540.79 155.24L541.3 156.96L541.81 158.76L542.32 160.64L542.82 162.58L543.33 164.56L543.84 166.57L544.35 168.6L544.85 170.64L545.36 172.67L545.87 174.69L546.38 176.67L546.88 178.6L547.39 180.48L547.9 182.28L548.41 184.01L548.92 185.64L549.42 187.17L549.93 188.58L550.44 189.87L550.95 191.03L551.45 192.05L551.96 192.92L552.47 193.64L552.98 194.21L553.48 194.62L553.99 194.87L554.5 194.95" stroke="#cc1c1c" stroke-width="1.4"/>
<rect x="422.1" y="160" width="3.6" height="50" fill="#8446c2"/>
<path d="M423.8 132.4 V210.3" stroke="#cc1c1c" stroke-width="1.2"/>
<path d="M423.8 168 V210.3" stroke="#c85aa0" stroke-width="1.3"/>
<path d="M303.3 158.66L303.81 158.7L304.31 158.83L304.82 159.05L305.32 159.35L305.83 159.73L306.33 160.2L306.84 160.74L307.34 161.35L307.85 162.03L308.35 162.78L308.86 163.59L309.36 164.46L309.87 165.37L310.37 166.33L310.88 167.32L311.38 168.35L311.89 169.39L312.39 170.46L312.9 171.54L313.4 172.62L313.91 173.7L314.41 174.76L314.92 175.81L315.42 176.84L315.93 177.83L316.43 178.79L316.94 179.7L317.44 180.57L317.95 181.37L318.45 182.12L318.96 182.81L319.46 183.42L319.97 183.96L320.47 184.42L320.98 184.81L321.48 185.11L321.99 185.32L322.49 185.45L323 185.5L323.5 185.46L324 185.35L324.5 185.16L325 184.89L325.5 184.56L326 184.15L326.5 183.67L327 183.13L327.5 182.53L328 181.87L328.5 181.15L329 180.37L329.5 179.56L330 178.69L330.5 177.79L331 176.86L331.5 175.9L332 174.92L332.5 173.92L333 172.91L333.5 171.89L334 170.87L334.5 169.86L335 168.86L335.5 167.88L336 166.92L336.5 165.99L337 165.09L337.5 164.22L338 163.41L338.5 162.63L339 161.91L339.5 161.25L340 160.65L340.5 160.11L341 159.63L341.5 159.22L342 158.89L342.5 158.62L343 158.43L343.5 158.32L344 158.28L344.51 158.32L345.01 158.45L345.52 158.66L346.03 158.96L346.54 159.33L347.05 159.79L347.55 160.32L348.06 160.92L348.57 161.59L349.07 162.32L349.58 163.12L350.09 163.97L350.6 164.87L351.11 165.82L351.61 166.8L352.12 167.82L352.63 168.86L353.13 169.92L353.64 171L354.15 172.08L354.66 173.16L355.17 174.24L355.67 175.3L356.18 176.34L356.69 177.36L357.19 178.34L357.7 179.29L358.21 180.19L358.72 181.04L359.23 181.83L359.73 182.57L360.24 183.24L360.75 183.84L361.25 184.37L361.76 184.83L362.27 185.2L362.78 185.49L363.29 185.71L363.79 185.83L364.3 185.88L364.81 185.83L365.32 185.69L365.82 185.45L366.33 185.13L366.84 184.71L367.35 184.21L367.85 183.62L368.36 182.96L368.87 182.22L369.38 181.4L369.88 180.53L370.39 179.59L370.9 178.6L371.41 177.56L371.92 176.48L372.42 175.37L372.93 174.23L373.44 173.08L373.95 171.91L374.45 170.74L374.96 169.57L375.47 168.41L375.98 167.27L376.48 166.16L376.99 165.08L377.5 164.05L378.01 163.06L378.52 162.12L379.02 161.24L379.53 160.43L380.04 159.69L380.55 159.02L381.05 158.44L381.56 157.93L382.07 157.52L382.58 157.19L383.08 156.96L383.59 156.82L384.1 156.77L384.61 156.83L385.12 157L385.63 157.29L386.14 157.69L386.65 158.2L387.16 158.82L387.67 159.54L388.18 160.36L388.69 161.27L389.21 162.26L389.72 163.33L390.23 164.48L390.74 165.68L391.25 166.95L391.76 168.26L392.27 169.6L392.78 170.98L393.29 172.38L393.8 173.78L394.31 175.18L394.82 176.58L395.33 177.96L395.84 179.3L396.35 180.61L396.86 181.88L397.37 183.08L397.88 184.23L398.39 185.3L398.91 186.29L399.42 187.2L399.93 188.02L400.44 188.74L400.95 189.36L401.46 189.87L401.97 190.27L402.48 190.56L402.99 190.73L403.5 190.79L404.01 190.67L404.53 190.33L405.04 189.75L405.55 188.96L406.07 187.95L406.58 186.75L407.09 185.35L407.61 183.79L408.12 182.06L408.63 180.21L409.15 178.23L409.66 176.16L410.17 174.02L410.69 171.83L411.2 169.62L411.71 167.41L412.23 165.22L412.74 163.08L413.25 161.01L413.77 159.04L414.28 157.18L414.79 155.46L415.31 153.89L415.82 152.5L416.33 151.29L416.85 150.28L417.36 149.49L417.87 148.92L418.39 148.57L418.9 148.45C420 148.83 421 152.99 421.4 162.44L421.6 219.14" stroke="#1010a8" stroke-width="1.4"/>
<path d="M426.2 219.14L426.4 162.44C426.8 152.99 427.8 148.83 428.9 148.45L428.9 148.45L429.41 148.58L429.93 148.95L430.44 149.56L430.96 150.41L431.47 151.48L431.98 152.77L432.5 154.25L433.01 155.92L433.52 157.74L434.04 159.71L434.55 161.79L435.07 163.96L435.58 166.2L436.09 168.48L436.61 170.77L437.12 173.05L437.63 175.29L438.15 177.46L438.66 179.54L439.18 181.5L439.69 183.33L440.2 184.99L440.72 186.47L441.23 187.76L441.74 188.83L442.26 189.68L442.77 190.3L443.29 190.67L443.8 190.79L444.31 190.73L444.81 190.56L445.32 190.27L445.82 189.87L446.33 189.36L446.83 188.74L447.34 188.02L447.84 187.2L448.35 186.29L448.85 185.3L449.36 184.23L449.86 183.08L450.37 181.88L450.87 180.61L451.38 179.3L451.88 177.96L452.39 176.58L452.89 175.18L453.4 173.78L453.91 172.38L454.41 170.98L454.92 169.6L455.42 168.26L455.93 166.95L456.43 165.68L456.94 164.48L457.44 163.33L457.95 162.26L458.45 161.27L458.96 160.36L459.46 159.54L459.97 158.82L460.47 158.2L460.98 157.69L461.48 157.29L461.99 157L462.49 156.83L463 156.77L463.5 156.82L464 156.96L464.5 157.2L465 157.53L465.5 157.95L466 158.46L466.5 159.05L467 159.73L467.5 160.48L468 161.3L468.5 162.19L469 163.14L469.5 164.14L470 165.19L470.5 166.28L471 167.41L471.5 168.56L472 169.74L472.5 170.92L473 172.11L473.5 173.29L474 174.46L474.5 175.61L475 176.74L475.5 177.83L476 178.88L476.5 179.89L477 180.84L477.5 181.72L478 182.55L478.5 183.3L479 183.97L479.5 184.57L480 185.07L480.5 185.5L481 185.83L481.5 186.06L482 186.21L482.5 186.25L483 186.21L483.5 186.1L484.01 185.9L484.51 185.62L485.01 185.27L485.51 184.85L486.02 184.35L486.52 183.79L487.02 183.16L487.52 182.47L488.03 181.72L488.53 180.92L489.03 180.06L489.53 179.17L490.04 178.23L490.54 177.26L491.04 176.26L491.54 175.23L492.05 174.19L492.55 173.14L493.05 172.08L493.55 171.02L494.05 169.97L494.56 168.92L495.06 167.9L495.56 166.9L496.06 165.93L496.57 164.99L497.07 164.09L497.57 163.24L498.07 162.44L498.58 161.69L499.08 161L499.58 160.37L500.08 159.8L500.59 159.31L501.09 158.88L501.59 158.53L502.09 158.26L502.6 158.06L503.1 157.94L503.6 157.9L504.11 157.94L504.62 158.06L505.13 158.26L505.64 158.54L506.15 158.89L506.66 159.32L507.17 159.81L507.68 160.38L508.19 161.01L508.7 161.71L509.21 162.46L509.72 163.26L510.23 164.12L510.74 165.01L511.25 165.95L511.76 166.91L512.27 167.91L512.78 168.92L513.29 169.95L513.8 170.99L514.3 172.03L514.81 173.07L515.32 174.1L515.83 175.12L516.34 176.11L516.85 177.08L517.36 178.01L517.87 178.91L518.38 179.76L518.89 180.57L519.4 181.32L519.91 182.01L520.42 182.64L520.93 183.21L521.44 183.71L521.95 184.13L522.46 184.49L522.97 184.76L523.48 184.96L523.99 185.08L524.5 185.12L525.01 185.08L525.52 184.96L526.03 184.75L526.54 184.47L527.05 184.11L527.56 183.68L528.07 183.17L528.58 182.59L529.09 181.95L529.6 181.25L530.11 180.48L530.62 179.67L531.13 178.8L531.64 177.9L532.15 176.95L532.66 175.98L533.17 174.98L533.68 173.96L534.19 172.93L534.7 171.89L535.21 170.85L535.72 169.82L536.23 168.8L536.74 167.8L537.25 166.83L537.76 165.88L538.27 164.98L538.78 164.11L539.29 163.3L539.8 162.53L540.31 161.83L540.82 161.19L541.33 160.61L541.84 160.1L542.35 159.67L542.86 159.31L543.37 159.03L543.88 158.82L544.39 158.7L544.9 158.66" stroke="#1010a8" stroke-width="1.4"/>
</g>
<text x="317.2" y="144.4" font-size="14" fill="#222" text-anchor="middle" >(f)</text>
<rect x="42.8" y="242.3" width="231.2" height="71" fill="#fff" stroke="#d0d0d0" stroke-width="0.6"/>
<path d="M45 313.3 v-1.5 M45 242.3 v1.5" stroke="#d0d0d0" stroke-width="0.5"/>
<text transform="translate(44.8 323.5) scale(1.12 1)" font-size="10.3" fill="#2a2a2a" text-anchor="middle" >0</text>
<path d="M82.75 313.3 v-1.5 M82.75 242.3 v1.5" stroke="#d0d0d0" stroke-width="0.5"/>
<text transform="translate(82.5 323.5) scale(1.12 1)" font-size="10.3" fill="#2a2a2a" text-anchor="middle" >1</text>
<path d="M120.5 313.3 v-1.5 M120.5 242.3 v1.5" stroke="#d0d0d0" stroke-width="0.5"/>
<text transform="translate(120.6 323.5) scale(1.12 1)" font-size="10.3" fill="#2a2a2a" text-anchor="middle" >2</text>
<path d="M158.25 313.3 v-1.5 M158.25 242.3 v1.5" stroke="#d0d0d0" stroke-width="0.5"/>
<text transform="translate(156.8 323.5) scale(1.12 1)" font-size="10.3" fill="#2a2a2a" text-anchor="middle" >3</text>
<path d="M196 313.3 v-1.5 M196 242.3 v1.5" stroke="#d0d0d0" stroke-width="0.5"/>
<text transform="translate(194.6 323.5) scale(1.12 1)" font-size="10.3" fill="#2a2a2a" text-anchor="middle" >4</text>
<path d="M233.75 313.3 v-1.5 M233.75 242.3 v1.5" stroke="#d0d0d0" stroke-width="0.5"/>
<text transform="translate(231.8 323.5) scale(1.12 1)" font-size="10.3" fill="#2a2a2a" text-anchor="middle" >5</text>
<path d="M271.5 313.3 v-1.5 M271.5 242.3 v1.5" stroke="#d0d0d0" stroke-width="0.5"/>
<text transform="translate(271.6 323.5) scale(1.12 1)" font-size="10.3" fill="#2a2a2a" text-anchor="middle" >6</text>
<path d="M42.8 313.3 h1.5 M274.0 313.3 h-1.5" stroke="#d0d0d0" stroke-width="0.5"/>
<text transform="translate(34.3 315) scale(1.12 1)" font-size="10.3" fill="#2a2a2a" text-anchor="middle" >0</text>
<path d="M42.8 299.1 h1.5 M274.0 299.1 h-1.5" stroke="#d0d0d0" stroke-width="0.5"/>
<text transform="translate(32.6 302.2) scale(1.12 1)" font-size="10.3" fill="#2a2a2a" text-anchor="middle" >0.2</text>
<path d="M42.8 284.9 h1.5 M274.0 284.9 h-1.5" stroke="#d0d0d0" stroke-width="0.5"/>
<text transform="translate(32.6 288.1) scale(1.12 1)" font-size="10.3" fill="#2a2a2a" text-anchor="middle" >0.4</text>
<path d="M42.8 270.7 h1.5 M274.0 270.7 h-1.5" stroke="#d0d0d0" stroke-width="0.5"/>
<text transform="translate(32.6 273.1) scale(1.12 1)" font-size="10.3" fill="#2a2a2a" text-anchor="middle" >0.6</text>
<path d="M42.8 256.5 h1.5 M274.0 256.5 h-1.5" stroke="#d0d0d0" stroke-width="0.5"/>
<text transform="translate(32.6 258) scale(1.12 1)" font-size="10.3" fill="#2a2a2a" text-anchor="middle" >0.8</text>
<path d="M42.8 242.3 h1.5 M274.0 242.3 h-1.5" stroke="#d0d0d0" stroke-width="0.5"/>
<text transform="translate(34.3 244.1) scale(1.12 1)" font-size="10.3" fill="#2a2a2a" text-anchor="middle" >1</text>
<text transform="translate(16.4 268.8) rotate(-90)" font-size="11.6" fill="#2a2a2a" text-anchor="middle">F[<tspan font-style="italic">E</tspan> (x)]</text>
<text x="143.4" y="335.5" font-size="11.2" fill="#2a2a2a" text-anchor="start" >1/λ<tspan font-size="7.6" dy="1.7">SPP</tspan><tspan dy="-1.7"> (1/nm)</tspan></text>
<text x="256.2" y="334.6" font-size="9.4" fill="#2a2a2a" text-anchor="start" >x10</text>
<text x="273.2" y="329.8" font-size="6.6" fill="#2a2a2a" text-anchor="start" >-3</text>
<text x="73.3" y="257.2" font-size="13.2" fill="#222" text-anchor="middle" >(g)</text>
<path d="M189.9 313.3V309.75M192.35 313.3V308.33M194.8 313.3V303.36M197.25 313.3V277.8M199.7 313.3V266.44M202.15 313.3V293.42M204.6 313.3V303.72M207.05 313.3V307.26M209.5 313.3V308.9M211.95 313.3V309.75" stroke="#ffd2d2" stroke-width="2.45" fill="none"/>
<path d="M42.9 313.3V311.89M45.35 313.3V311.89M47.8 313.3V311.89M50.25 313.3V311.88M52.7 313.3V311.88M55.15 313.3V311.88M57.6 313.3V311.88M60.05 313.3V311.88M62.5 313.3V311.87M64.95 313.3V311.87M67.4 313.3V311.87M69.85 313.3V311.86M72.3 313.3V311.86M74.75 313.3V311.86M77.2 313.3V311.85M79.65 313.3V311.85M82.1 313.3V311.85M84.55 313.3V311.84M87 313.3V311.84M89.45 313.3V311.84M91.9 313.3V311.83M94.35 313.3V311.83M96.8 313.3V311.82M99.25 313.3V311.82M101.7 313.3V311.81M104.15 313.3V311.81M106.6 313.3V311.8M109.05 313.3V311.8M111.5 313.3V311.79M113.95 313.3V311.79M116.4 313.3V311.78M118.85 313.3V311.77M121.3 313.3V311.76M123.75 313.3V311.76M126.2 313.3V311.75M128.65 313.3V311.74M131.1 313.3V311.73M133.55 313.3V311.72M136 313.3V311.71M138.45 313.3V311.69M140.9 313.3V311.68M143.35 313.3V311.67M145.8 313.3V311.65M148.25 313.3V311.63M150.7 313.3V311.62M153.15 313.3V311.6M155.6 313.3V311.57M158.05 313.3V311.55M160.5 313.3V311.52M162.95 313.3V311.49M165.4 313.3V311.45M167.85 313.3V311.41M170.3 313.3V311.37M172.75 313.3V311.31M175.2 313.3V311.25M177.65 313.3V311.17M180.1 313.3V311.08M182.55 313.3V310.96M185 313.3V310.8M187.45 313.3V310.11M189.9 313.3V309.04M192.35 313.3V307.26M194.8 313.3V301.23M197.25 313.3V263.6M199.7 313.3V243.37M202.15 313.3V287.03M204.6 313.3V299.1M207.05 313.3V305.13M209.5 313.3V307.26M211.95 313.3V308.47M214.4 313.3V309.32M216.85 313.3V309.96M219.3 313.3V310.46M221.75 313.3V310.81M224.2 313.3V311.16M226.65 313.3V311.26M229.1 313.3V311.36M231.55 313.3V311.43M234 313.3V311.5M236.45 313.3V311.56M238.9 313.3V311.61M241.35 313.3V311.66M243.8 313.3V311.7M246.25 313.3V311.74M248.7 313.3V311.77M251.15 313.3V311.8M253.6 313.3V311.83M256.05 313.3V311.86M258.5 313.3V311.88M260.95 313.3V311.9M263.4 313.3V311.92M265.85 313.3V311.94M268.3 313.3V311.96M270.75 313.3V311.97M273.2 313.3V311.99" stroke="#1010a8" stroke-width="1.1" fill="none"/>
<g fill="#1010a8"><circle cx="42.9" cy="311.29" r="1.2"/><circle cx="45.35" cy="311.29" r="1.2"/><circle cx="47.8" cy="311.29" r="1.2"/><circle cx="50.25" cy="311.28" r="1.2"/><circle cx="52.7" cy="311.28" r="1.2"/><circle cx="55.15" cy="311.28" r="1.2"/><circle cx="57.6" cy="311.28" r="1.2"/><circle cx="60.05" cy="311.28" r="1.2"/><circle cx="62.5" cy="311.27" r="1.2"/><circle cx="64.95" cy="311.27" r="1.2"/><circle cx="67.4" cy="311.27" r="1.2"/><circle cx="69.85" cy="311.26" r="1.2"/><circle cx="72.3" cy="311.26" r="1.2"/><circle cx="74.75" cy="311.26" r="1.2"/><circle cx="77.2" cy="311.25" r="1.2"/><circle cx="79.65" cy="311.25" r="1.2"/><circle cx="82.1" cy="311.25" r="1.2"/><circle cx="84.55" cy="311.24" r="1.2"/><circle cx="87" cy="311.24" r="1.2"/><circle cx="89.45" cy="311.24" r="1.2"/><circle cx="91.9" cy="311.23" r="1.2"/><circle cx="94.35" cy="311.23" r="1.2"/><circle cx="96.8" cy="311.22" r="1.2"/><circle cx="99.25" cy="311.22" r="1.2"/><circle cx="101.7" cy="311.21" r="1.2"/><circle cx="104.15" cy="311.21" r="1.2"/><circle cx="106.6" cy="311.2" r="1.2"/><circle cx="109.05" cy="311.2" r="1.2"/><circle cx="111.5" cy="311.19" r="1.2"/><circle cx="113.95" cy="311.19" r="1.2"/><circle cx="116.4" cy="311.18" r="1.2"/><circle cx="118.85" cy="311.17" r="1.2"/><circle cx="121.3" cy="311.16" r="1.2"/><circle cx="123.75" cy="311.16" r="1.2"/><circle cx="126.2" cy="311.15" r="1.2"/><circle cx="128.65" cy="311.14" r="1.2"/><circle cx="131.1" cy="311.13" r="1.2"/><circle cx="133.55" cy="311.12" r="1.2"/><circle cx="136" cy="311.11" r="1.2"/><circle cx="138.45" cy="311.09" r="1.2"/><circle cx="140.9" cy="311.08" r="1.2"/><circle cx="143.35" cy="311.07" r="1.2"/><circle cx="145.8" cy="311.05" r="1.2"/><circle cx="148.25" cy="311.03" r="1.2"/><circle cx="150.7" cy="311.02" r="1.2"/><circle cx="153.15" cy="311" r="1.2"/><circle cx="155.6" cy="310.97" r="1.2"/><circle cx="158.05" cy="310.95" r="1.2"/><circle cx="160.5" cy="310.92" r="1.2"/><circle cx="162.95" cy="310.89" r="1.2"/><circle cx="165.4" cy="310.85" r="1.2"/><circle cx="167.85" cy="310.81" r="1.2"/><circle cx="170.3" cy="310.77" r="1.2"/><circle cx="172.75" cy="310.71" r="1.2"/><circle cx="175.2" cy="310.65" r="1.2"/><circle cx="177.65" cy="310.57" r="1.2"/><circle cx="180.1" cy="310.48" r="1.2"/><circle cx="182.55" cy="310.36" r="1.2"/><circle cx="185" cy="310.2" r="1.2"/><circle cx="187.45" cy="309.5" r="1.2"/><circle cx="189.9" cy="308.44" r="1.2"/><circle cx="192.35" cy="306.66" r="1.2"/><circle cx="194.8" cy="300.63" r="1.2"/><circle cx="197.25" cy="263" r="1.2"/><circle cx="199.7" cy="242.77" r="1.2"/><circle cx="202.15" cy="286.43" r="1.2"/><circle cx="204.6" cy="298.5" r="1.2"/><circle cx="207.05" cy="304.53" r="1.2"/><circle cx="209.5" cy="306.66" r="1.2"/><circle cx="211.95" cy="307.87" r="1.2"/><circle cx="214.4" cy="308.72" r="1.2"/><circle cx="216.85" cy="309.36" r="1.2"/><circle cx="219.3" cy="309.86" r="1.2"/><circle cx="221.75" cy="310.21" r="1.2"/><circle cx="224.2" cy="310.56" r="1.2"/><circle cx="226.65" cy="310.66" r="1.2"/><circle cx="229.1" cy="310.76" r="1.2"/><circle cx="231.55" cy="310.83" r="1.2"/><circle cx="234" cy="310.9" r="1.2"/><circle cx="236.45" cy="310.96" r="1.2"/><circle cx="238.9" cy="311.01" r="1.2"/><circle cx="241.35" cy="311.06" r="1.2"/><circle cx="243.8" cy="311.1" r="1.2"/><circle cx="246.25" cy="311.14" r="1.2"/><circle cx="248.7" cy="311.17" r="1.2"/><circle cx="251.15" cy="311.2" r="1.2"/><circle cx="253.6" cy="311.23" r="1.2"/><circle cx="256.05" cy="311.26" r="1.2"/><circle cx="258.5" cy="311.28" r="1.2"/><circle cx="260.95" cy="311.3" r="1.2"/><circle cx="263.4" cy="311.32" r="1.2"/><circle cx="265.85" cy="311.34" r="1.2"/><circle cx="268.3" cy="311.36" r="1.2"/><circle cx="270.75" cy="311.37" r="1.2"/><circle cx="273.2" cy="311.39" r="1.2"/></g>
<path d="M42.2 311.8 H274.0" stroke="#2a1aa0" stroke-width="1.7" opacity="0.85"/>
<path d="M42.2 313 H274.0" stroke="#6a1880" stroke-width="1.2"/>
<path d="M42.2 314 H274.0" stroke="#cc1440" stroke-width="1.7"/>
<path d="M42.9 313.3V312.62M45.35 313.3V312.62M47.8 313.3V312.62M50.25 313.3V312.62M52.7 313.3V312.62M55.15 313.3V312.61M57.6 313.3V312.61M60.05 313.3V312.61M62.5 313.3V312.61M64.95 313.3V312.61M67.4 313.3V312.6M69.85 313.3V312.6M72.3 313.3V312.6M74.75 313.3V312.6M77.2 313.3V312.59M79.65 313.3V312.59M82.1 313.3V312.59M84.55 313.3V312.58M87 313.3V312.58M89.45 313.3V312.58M91.9 313.3V312.57M94.35 313.3V312.57M96.8 313.3V312.57M99.25 313.3V312.56M101.7 313.3V312.56M104.15 313.3V312.55M106.6 313.3V312.55M109.05 313.3V312.55M111.5 313.3V312.54M113.95 313.3V312.53M116.4 313.3V312.53M118.85 313.3V312.52M121.3 313.3V312.52M123.75 313.3V312.51M126.2 313.3V312.5M128.65 313.3V312.5M131.1 313.3V312.49M133.55 313.3V312.48M136 313.3V312.47M138.45 313.3V312.46M140.9 313.3V312.45M143.35 313.3V312.44M145.8 313.3V312.42M148.25 313.3V312.41M150.7 313.3V312.39M153.15 313.3V312.38M155.6 313.3V312.36M158.05 313.3V312.34M160.5 313.3V312.31M162.95 313.3V312.29M165.4 313.3V312.26M167.85 313.3V312.22M170.3 313.3V312.19M172.75 313.3V312.14M175.2 313.3V312.09M177.65 313.3V312.02M180.1 313.3V311.94M182.55 313.3V311.84M185 313.3V311.72M187.45 313.3V310.81M189.9 313.3V309.75M192.35 313.3V308.33M194.8 313.3V303.36M197.25 313.3V277.8M199.7 313.3V266.44M202.15 313.3V293.42M204.6 313.3V303.72M207.05 313.3V307.26M209.5 313.3V308.9M211.95 313.3V309.75M214.4 313.3V310.32M216.85 313.3V310.74M219.3 313.3V311.1M221.75 313.3V311.38M224.2 313.3V311.7M226.65 313.3V311.79M229.1 313.3V311.86M231.55 313.3V311.92M234 313.3V311.97M236.45 313.3V312.02M238.9 313.3V312.06M241.35 313.3V312.1M243.8 313.3V312.13M246.25 313.3V312.16M248.7 313.3V312.19M251.15 313.3V312.22M253.6 313.3V312.24M256.05 313.3V312.26M258.5 313.3V312.28M260.95 313.3V312.3M263.4 313.3V312.31M265.85 313.3V312.33M268.3 313.3V312.34M270.75 313.3V312.35M273.2 313.3V312.37" stroke="#cc1c1c" stroke-width="1.25" fill="none"/>
<g fill="#cc1c1c"><circle cx="42.9" cy="312.62" r="0.85"/><circle cx="45.35" cy="312.62" r="0.85"/><circle cx="47.8" cy="312.62" r="0.85"/><circle cx="50.25" cy="312.62" r="0.85"/><circle cx="52.7" cy="312.62" r="0.85"/><circle cx="55.15" cy="312.61" r="0.85"/><circle cx="57.6" cy="312.61" r="0.85"/><circle cx="60.05" cy="312.61" r="0.85"/><circle cx="62.5" cy="312.61" r="0.85"/><circle cx="64.95" cy="312.61" r="0.85"/><circle cx="67.4" cy="312.6" r="0.85"/><circle cx="69.85" cy="312.6" r="0.85"/><circle cx="72.3" cy="312.6" r="0.85"/><circle cx="74.75" cy="312.6" r="0.85"/><circle cx="77.2" cy="312.59" r="0.85"/><circle cx="79.65" cy="312.59" r="0.85"/><circle cx="82.1" cy="312.59" r="0.85"/><circle cx="84.55" cy="312.58" r="0.85"/><circle cx="87" cy="312.58" r="0.85"/><circle cx="89.45" cy="312.58" r="0.85"/><circle cx="91.9" cy="312.57" r="0.85"/><circle cx="94.35" cy="312.57" r="0.85"/><circle cx="96.8" cy="312.57" r="0.85"/><circle cx="99.25" cy="312.56" r="0.85"/><circle cx="101.7" cy="312.56" r="0.85"/><circle cx="104.15" cy="312.55" r="0.85"/><circle cx="106.6" cy="312.55" r="0.85"/><circle cx="109.05" cy="312.55" r="0.85"/><circle cx="111.5" cy="312.54" r="0.85"/><circle cx="113.95" cy="312.53" r="0.85"/><circle cx="116.4" cy="312.53" r="0.85"/><circle cx="118.85" cy="312.52" r="0.85"/><circle cx="121.3" cy="312.52" r="0.85"/><circle cx="123.75" cy="312.51" r="0.85"/><circle cx="126.2" cy="312.5" r="0.85"/><circle cx="128.65" cy="312.5" r="0.85"/><circle cx="131.1" cy="312.49" r="0.85"/><circle cx="133.55" cy="312.48" r="0.85"/><circle cx="136" cy="312.47" r="0.85"/><circle cx="138.45" cy="312.46" r="0.85"/><circle cx="140.9" cy="312.45" r="0.85"/><circle cx="143.35" cy="312.44" r="0.85"/><circle cx="145.8" cy="312.42" r="0.85"/><circle cx="148.25" cy="312.41" r="0.85"/><circle cx="150.7" cy="312.39" r="0.85"/><circle cx="153.15" cy="312.38" r="0.85"/><circle cx="155.6" cy="312.36" r="0.85"/><circle cx="158.05" cy="312.34" r="0.85"/><circle cx="160.5" cy="312.31" r="0.85"/><circle cx="162.95" cy="312.29" r="0.85"/><circle cx="165.4" cy="312.26" r="0.85"/><circle cx="167.85" cy="312.22" r="0.85"/><circle cx="170.3" cy="312.19" r="0.85"/><circle cx="172.75" cy="312.14" r="0.85"/><circle cx="175.2" cy="312.09" r="0.85"/><circle cx="177.65" cy="312.02" r="0.85"/><circle cx="180.1" cy="311.94" r="0.85"/><circle cx="182.55" cy="311.84" r="0.85"/><circle cx="185" cy="311.72" r="0.85"/><circle cx="187.45" cy="310.81" r="0.85"/><circle cx="189.9" cy="309.75" r="0.85"/><circle cx="192.35" cy="308.33" r="0.85"/><circle cx="194.8" cy="303.36" r="0.85"/><circle cx="197.25" cy="277.8" r="0.85"/><circle cx="199.7" cy="266.44" r="0.85"/><circle cx="202.15" cy="293.42" r="0.85"/><circle cx="204.6" cy="303.72" r="0.85"/><circle cx="207.05" cy="307.26" r="0.85"/><circle cx="209.5" cy="308.9" r="0.85"/><circle cx="211.95" cy="309.75" r="0.85"/><circle cx="214.4" cy="310.32" r="0.85"/><circle cx="216.85" cy="310.74" r="0.85"/><circle cx="219.3" cy="311.1" r="0.85"/><circle cx="221.75" cy="311.38" r="0.85"/><circle cx="224.2" cy="311.7" r="0.85"/><circle cx="226.65" cy="311.79" r="0.85"/><circle cx="229.1" cy="311.86" r="0.85"/><circle cx="231.55" cy="311.92" r="0.85"/><circle cx="234" cy="311.97" r="0.85"/><circle cx="236.45" cy="312.02" r="0.85"/><circle cx="238.9" cy="312.06" r="0.85"/><circle cx="241.35" cy="312.1" r="0.85"/><circle cx="243.8" cy="312.13" r="0.85"/><circle cx="246.25" cy="312.16" r="0.85"/><circle cx="248.7" cy="312.19" r="0.85"/><circle cx="251.15" cy="312.22" r="0.85"/><circle cx="253.6" cy="312.24" r="0.85"/><circle cx="256.05" cy="312.26" r="0.85"/><circle cx="258.5" cy="312.28" r="0.85"/><circle cx="260.95" cy="312.3" r="0.85"/><circle cx="263.4" cy="312.31" r="0.85"/><circle cx="265.85" cy="312.33" r="0.85"/><circle cx="268.3" cy="312.34" r="0.85"/><circle cx="270.75" cy="312.35" r="0.85"/><circle cx="273.2" cy="312.37" r="0.85"/></g>
<path d="M217.8 255.8 H244.8" stroke="#1010a8" stroke-width="1.5"/>
<path d="M218.6 278.2 H244.8" stroke="#c23a3a" stroke-width="1.5"/>
<text x="248.2" y="258.7" font-size="11.8" fill="#111" text-anchor="start" ><tspan font-style="italic">E</tspan><tspan font-size="11.4" dy="3.2" dx="0.6">x</tspan></text>
<text x="248.2" y="280.3" font-size="11.8" fill="#111" text-anchor="start" ><tspan font-style="italic">E</tspan><tspan font-size="11.4" dy="2.4" dx="0.6">z</tspan></text>
<g>
<rect x="95.8" y="251.7" width="78.7" height="55.7" fill="#c3e6f5"/>
<rect x="95.8" y="251.7" width="78.7" height="15.6" fill="#737373"/>
<rect x="95.8" y="251.7" width="78.7" height="55.7" fill="none" stroke="#8fb4c8" stroke-width="0.6"/>
<path d="M103 267.6 H167" stroke="#f2e020" stroke-width="1.3"/>
<polygon points="97.2,267.6 106,264.4 104.4,267.6 106,270.8" fill="#f7e81c"/>
<polygon points="173.2,267.6 164.4,264.4 166,267.6 164.4,270.8" fill="#f7e81c"/>
<path d="M127.6 267.6 H141.6" stroke="#e02030" stroke-width="1.5"/>
<polygon points="124.2,267.6 129.6,265.3 129.6,269.9" fill="#e02030"/>
<polygon points="145,267.6 139.6,265.3 139.6,269.9" fill="#e02030"/>
<path d="M127.6 289.6 H141.6" stroke="#e02030" stroke-width="1.5"/>
<polygon points="124.2,289.6 129.6,287.3 129.6,291.9" fill="#e02030"/>
<polygon points="145,289.6 139.6,287.3 139.6,291.9" fill="#e02030"/>
<path d="M134.6 272.4 V284.4" stroke="#333" stroke-width="0.9" stroke-dasharray="1.4 1.4"/>
<polygon points="134.6,269.8 133.2,273 136,273" fill="#333"/>
<polygon points="134.6,287 133.2,283.8 136,283.8" fill="#333"/>
<text x="127.6" y="263.4" font-size="13" fill="#222" text-anchor="start" font-family='"Liberation Serif", "Times New Roman", serif' ><tspan font-style="italic">μ</tspan><tspan font-size="7.4" dy="2">A</tspan></text>
<text x="127.6" y="301.8" font-size="13" fill="#222" text-anchor="start" font-family='"Liberation Serif", "Times New Roman", serif' ><tspan font-style="italic">μ</tspan><tspan font-size="7.4" dy="2">D</tspan></text>
<text x="121.6" y="280.6" font-size="12" fill="#222" text-anchor="start" font-family='"Liberation Serif", "Times New Roman", serif' ><tspan font-style="italic">z</tspan><tspan font-size="7.4" dy="2.2" dx="1">d</tspan></text>
<text x="100.3" y="264.6" font-size="8.2" fill="#222" text-anchor="start" font-family='"Liberation Serif", "Times New Roman", serif' >Ag</text>
<text x="157" y="278.2" font-size="8.4" fill="#222" text-anchor="start" font-family='"Liberation Serif", "Times New Roman", serif' >SPP</text>
<text transform="translate(109.6 288.2) rotate(-90)" font-size="7.8" fill="#222" text-anchor="middle" font-family='"Liberation Serif", "Times New Roman", serif'>Diamond</text>
</g>
<rect x="307.6" y="241.3" width="231.9" height="71.3" fill="#fff" stroke="#d0d0d0" stroke-width="0.6"/>
<path d="M309.8 312.6 v-1.5 M309.8 241.3 v1.5" stroke="#d0d0d0" stroke-width="0.5"/>
<text transform="translate(309.8 322.3) scale(1.12 1)" font-size="10.3" fill="#2a2a2a" text-anchor="middle" >0</text>
<path d="M347.5 312.6 v-1.5 M347.5 241.3 v1.5" stroke="#d0d0d0" stroke-width="0.5"/>
<text transform="translate(347.5 322.3) scale(1.12 1)" font-size="10.3" fill="#2a2a2a" text-anchor="middle" >1</text>
<path d="M385.2 312.6 v-1.5 M385.2 241.3 v1.5" stroke="#d0d0d0" stroke-width="0.5"/>
<text transform="translate(385.2 322.3) scale(1.12 1)" font-size="10.3" fill="#2a2a2a" text-anchor="middle" >2</text>
<path d="M422.9 312.6 v-1.5 M422.9 241.3 v1.5" stroke="#d0d0d0" stroke-width="0.5"/>
<text transform="translate(422.9 322.3) scale(1.12 1)" font-size="10.3" fill="#2a2a2a" text-anchor="middle" >3</text>
<path d="M460.6 312.6 v-1.5 M460.6 241.3 v1.5" stroke="#d0d0d0" stroke-width="0.5"/>
<text transform="translate(460.6 322.3) scale(1.12 1)" font-size="10.3" fill="#2a2a2a" text-anchor="middle" >4</text>
<path d="M498.3 312.6 v-1.5 M498.3 241.3 v1.5" stroke="#d0d0d0" stroke-width="0.5"/>
<text transform="translate(498.3 322.3) scale(1.12 1)" font-size="10.3" fill="#2a2a2a" text-anchor="middle" >5</text>
<path d="M536 312.6 v-1.5 M536 241.3 v1.5" stroke="#d0d0d0" stroke-width="0.5"/>
<text transform="translate(535.6 322.3) scale(1.12 1)" font-size="10.3" fill="#2a2a2a" text-anchor="middle" >6</text>
<path d="M307.6 312.6 h1.5 M539.5 312.6 h-1.5" stroke="#d0d0d0" stroke-width="0.5"/>
<text transform="translate(299 317.2) scale(1.12 1)" font-size="10.3" fill="#2a2a2a" text-anchor="middle" >0</text>
<path d="M307.6 298.34 h1.5 M539.5 298.34 h-1.5" stroke="#d0d0d0" stroke-width="0.5"/>
<text transform="translate(298.8 302.7) scale(1.12 1)" font-size="10.3" fill="#2a2a2a" text-anchor="middle" >0.2</text>
<path d="M307.6 284.08 h1.5 M539.5 284.08 h-1.5" stroke="#d0d0d0" stroke-width="0.5"/>
<text transform="translate(298.8 287.7) scale(1.12 1)" font-size="10.3" fill="#2a2a2a" text-anchor="middle" >0.4</text>
<path d="M307.6 269.82 h1.5 M539.5 269.82 h-1.5" stroke="#d0d0d0" stroke-width="0.5"/>
<text transform="translate(298.8 273.3) scale(1.12 1)" font-size="10.3" fill="#2a2a2a" text-anchor="middle" >0.6</text>
<path d="M307.6 255.56 h1.5 M539.5 255.56 h-1.5" stroke="#d0d0d0" stroke-width="0.5"/>
<text transform="translate(298.8 258.8) scale(1.12 1)" font-size="10.3" fill="#2a2a2a" text-anchor="middle" >0.8</text>
<path d="M307.6 241.3 h1.5 M539.5 241.3 h-1.5" stroke="#d0d0d0" stroke-width="0.5"/>
<text transform="translate(301.6 244.4) scale(1.12 1)" font-size="10.3" fill="#2a2a2a" text-anchor="middle" >1</text>
<text x="409.4" y="332.8" font-size="11.2" fill="#2a2a2a" text-anchor="start" >1/λ<tspan font-size="7.6" dy="1.7">SPP</tspan><tspan dy="-1.7"> (1/nm)</tspan></text>
<text x="520.4" y="332.8" font-size="9.4" fill="#2a2a2a" text-anchor="start" >x10</text>
<text x="537.6" y="328.2" font-size="6.6" fill="#2a2a2a" text-anchor="start" >-3</text>
<text x="323.2" y="255.4" font-size="13.2" fill="#222" text-anchor="middle" >(h)</text>
<path d="M308 312.5 H539.5" stroke="#d83068" stroke-width="0.9"/>
<path d="M308.6 312.6V307.18M312.88 312.6V305.47M317.17 312.6V305.26M321.45 312.6V305.18M325.74 312.6V305.11M330.02 312.6V304.97M334.31 312.6V304.83M338.59 312.6V304.61M342.88 312.6V304.26M347.16 312.6V303.33M351.44 312.6V302.12M355.73 312.6V300.19M360.01 312.6V296.13M364.3 312.6V241.3M368.5 312.6V310.46M372.6 312.6V311.32M376.25 312.6V311.74M379.89 312.6V311.98M383.54 312.6V312.1M387.19 312.6V312.17M390.84 312.6V312.22M394.48 312.6V312.25M398.13 312.6V312.28M401.78 312.6V312.3M405.42 312.6V312.31M409.07 312.6V312.33M412.72 312.6V312.34M416.36 312.6V312.35M420.01 312.6V312.36M423.66 312.6V312.36M427.31 312.6V312.37M430.95 312.6V312.37M434.6 312.6V312.38M438.25 312.6V312.38M441.89 312.6V312.39M445.54 312.6V312.39M449.19 312.6V312.39M452.83 312.6V312.4M456.48 312.6V312.4M460.13 312.6V312.4M463.78 312.6V312.4M467.42 312.6V312.4M471.07 312.6V312.41M474.72 312.6V312.41M478.36 312.6V312.41M482.01 312.6V312.41M485.66 312.6V312.41M489.3 312.6V312.41M492.95 312.6V312.42M496.6 312.6V312.42M500.25 312.6V312.42M503.89 312.6V312.42M507.54 312.6V312.42M511.19 312.6V312.42M514.83 312.6V312.42M518.48 312.6V312.42M522.13 312.6V312.42M525.77 312.6V312.42M529.42 312.6V312.42M533.07 312.6V312.43M536.72 312.6V312.43" stroke="#cc1c1c" stroke-width="1.5" fill="none"/>
<g fill="#cc1c1c"><circle cx="308.6" cy="307.18" r="1.05"/><circle cx="312.88" cy="305.47" r="1.05"/><circle cx="317.17" cy="305.26" r="1.05"/><circle cx="321.45" cy="305.18" r="1.05"/><circle cx="325.74" cy="305.11" r="1.05"/><circle cx="330.02" cy="304.97" r="1.05"/><circle cx="334.31" cy="304.83" r="1.05"/><circle cx="338.59" cy="304.61" r="1.05"/><circle cx="342.88" cy="304.26" r="1.05"/><circle cx="347.16" cy="303.33" r="1.05"/><circle cx="351.44" cy="302.12" r="1.05"/><circle cx="355.73" cy="300.19" r="1.05"/><circle cx="360.01" cy="296.13" r="1.05"/><circle cx="364.3" cy="241.3" r="1.05"/><circle cx="368.5" cy="310.46" r="1.05"/><circle cx="372.6" cy="311.32" r="1.05"/><circle cx="376.25" cy="311.74" r="1.05"/><circle cx="379.89" cy="311.98" r="1.05"/><circle cx="383.54" cy="312.1" r="1.05"/><circle cx="387.19" cy="312.17" r="1.05"/><circle cx="390.84" cy="312.22" r="1.05"/><circle cx="394.48" cy="312.25" r="1.05"/><circle cx="398.13" cy="312.28" r="1.05"/><circle cx="401.78" cy="312.3" r="1.05"/><circle cx="405.42" cy="312.31" r="1.05"/><circle cx="409.07" cy="312.33" r="1.05"/><circle cx="412.72" cy="312.34" r="1.05"/><circle cx="416.36" cy="312.35" r="1.05"/><circle cx="420.01" cy="312.36" r="1.05"/><circle cx="423.66" cy="312.36" r="1.05"/><circle cx="427.31" cy="312.37" r="1.05"/><circle cx="430.95" cy="312.37" r="1.05"/><circle cx="434.6" cy="312.38" r="1.05"/><circle cx="438.25" cy="312.38" r="1.05"/><circle cx="441.89" cy="312.39" r="1.05"/><circle cx="445.54" cy="312.39" r="1.05"/><circle cx="449.19" cy="312.39" r="1.05"/><circle cx="452.83" cy="312.4" r="1.05"/><circle cx="456.48" cy="312.4" r="1.05"/><circle cx="460.13" cy="312.4" r="1.05"/><circle cx="463.78" cy="312.4" r="1.05"/><circle cx="467.42" cy="312.4" r="1.05"/><circle cx="471.07" cy="312.41" r="1.05"/><circle cx="474.72" cy="312.41" r="1.05"/><circle cx="478.36" cy="312.41" r="1.05"/><circle cx="482.01" cy="312.41" r="1.05"/><circle cx="485.66" cy="312.41" r="1.05"/><circle cx="489.3" cy="312.41" r="1.05"/><circle cx="492.95" cy="312.42" r="1.05"/><circle cx="496.6" cy="312.42" r="1.05"/><circle cx="500.25" cy="312.42" r="1.05"/><circle cx="503.89" cy="312.42" r="1.05"/><circle cx="507.54" cy="312.42" r="1.05"/><circle cx="511.19" cy="312.42" r="1.05"/><circle cx="514.83" cy="312.42" r="1.05"/><circle cx="518.48" cy="312.42" r="1.05"/><circle cx="522.13" cy="312.42" r="1.05"/><circle cx="525.77" cy="312.42" r="1.05"/><circle cx="529.42" cy="312.42" r="1.05"/><circle cx="533.07" cy="312.43" r="1.05"/><circle cx="536.72" cy="312.43" r="1.05"/></g>
<path d="M308.6 312.6V312.25M312.88 312.6V312.24M317.17 312.6V312.24M321.45 312.6V312.23M325.74 312.6V312.22M330.02 312.6V312.21M334.31 312.6V312.19M338.59 312.6V312.17M342.88 312.6V312.14M347.16 312.6V312.1M351.44 312.6V312.03M355.73 312.6V311.89M360.01 312.6V311.46M364.3 312.6V281.94M368.5 312.6V305.83M372.6 312.6V308.18M376.25 312.6V309.57M379.89 312.6V310.4M383.54 312.6V310.8M387.19 312.6V311.03M390.84 312.6V311.18M394.48 312.6V311.28M398.13 312.6V311.36M401.78 312.6V311.42M405.42 312.6V311.46M409.07 312.6V311.5M412.72 312.6V311.53M416.36 312.6V311.55M420.01 312.6V311.58M423.66 312.6V311.59M427.31 312.6V311.61M430.95 312.6V311.62M434.6 312.6V311.64M438.25 312.6V311.65M441.89 312.6V311.66M445.54 312.6V311.67M449.19 312.6V311.67M452.83 312.6V311.68M456.48 312.6V311.69M460.13 312.6V311.69M463.78 312.6V311.7M467.42 312.6V311.7M471.07 312.6V311.71M474.72 312.6V311.71M478.36 312.6V311.72M482.01 312.6V311.72M485.66 312.6V311.72M489.3 312.6V311.73M492.95 312.6V311.73M496.6 312.6V311.73M500.25 312.6V311.73M503.89 312.6V311.74M507.54 312.6V311.74M511.19 312.6V311.74M514.83 312.6V311.74M518.48 312.6V311.75M522.13 312.6V311.75M525.77 312.6V311.75M529.42 312.6V311.75M533.07 312.6V311.75M536.72 312.6V311.75" stroke="#1010a8" stroke-width="1.3" fill="none"/>
<g fill="#1010a8"><circle cx="308.6" cy="312.25" r="1.25"/><circle cx="312.88" cy="312.24" r="1.25"/><circle cx="317.17" cy="312.24" r="1.25"/><circle cx="321.45" cy="312.23" r="1.25"/><circle cx="325.74" cy="312.22" r="1.25"/><circle cx="330.02" cy="312.21" r="1.25"/><circle cx="334.31" cy="312.19" r="1.25"/><circle cx="338.59" cy="312.17" r="1.25"/><circle cx="342.88" cy="312.14" r="1.25"/><circle cx="347.16" cy="312.1" r="1.25"/><circle cx="351.44" cy="312.03" r="1.25"/><circle cx="355.73" cy="311.89" r="1.25"/><circle cx="360.01" cy="311.46" r="1.25"/><circle cx="364.3" cy="281.94" r="1.25"/><circle cx="368.5" cy="305.83" r="1.25"/><circle cx="372.6" cy="308.18" r="1.25"/><circle cx="376.25" cy="309.57" r="1.25"/><circle cx="379.89" cy="310.4" r="1.25"/><circle cx="383.54" cy="310.8" r="1.25"/><circle cx="387.19" cy="311.03" r="1.25"/><circle cx="390.84" cy="311.18" r="1.25"/><circle cx="394.48" cy="311.28" r="1.25"/><circle cx="398.13" cy="311.36" r="1.25"/><circle cx="401.78" cy="311.42" r="1.25"/><circle cx="405.42" cy="311.46" r="1.25"/><circle cx="409.07" cy="311.5" r="1.25"/><circle cx="412.72" cy="311.53" r="1.25"/><circle cx="416.36" cy="311.55" r="1.25"/><circle cx="420.01" cy="311.58" r="1.25"/><circle cx="423.66" cy="311.59" r="1.25"/><circle cx="427.31" cy="311.61" r="1.25"/><circle cx="430.95" cy="311.62" r="1.25"/><circle cx="434.6" cy="311.64" r="1.25"/><circle cx="438.25" cy="311.65" r="1.25"/><circle cx="441.89" cy="311.66" r="1.25"/><circle cx="445.54" cy="311.67" r="1.25"/><circle cx="449.19" cy="311.67" r="1.25"/><circle cx="452.83" cy="311.68" r="1.25"/><circle cx="456.48" cy="311.69" r="1.25"/><circle cx="460.13" cy="311.69" r="1.25"/><circle cx="463.78" cy="311.7" r="1.25"/><circle cx="467.42" cy="311.7" r="1.25"/><circle cx="471.07" cy="311.71" r="1.25"/><circle cx="474.72" cy="311.71" r="1.25"/><circle cx="478.36" cy="311.72" r="1.25"/><circle cx="482.01" cy="311.72" r="1.25"/><circle cx="485.66" cy="311.72" r="1.25"/><circle cx="489.3" cy="311.73" r="1.25"/><circle cx="492.95" cy="311.73" r="1.25"/><circle cx="496.6" cy="311.73" r="1.25"/><circle cx="500.25" cy="311.73" r="1.25"/><circle cx="503.89" cy="311.74" r="1.25"/><circle cx="507.54" cy="311.74" r="1.25"/><circle cx="511.19" cy="311.74" r="1.25"/><circle cx="514.83" cy="311.74" r="1.25"/><circle cx="518.48" cy="311.75" r="1.25"/><circle cx="522.13" cy="311.75" r="1.25"/><circle cx="525.77" cy="311.75" r="1.25"/><circle cx="529.42" cy="311.75" r="1.25"/><circle cx="533.07" cy="311.75" r="1.25"/><circle cx="536.72" cy="311.75" r="1.25"/></g>
<path d="M482.8 254.6 H509.9" stroke="#1010a8" stroke-width="1.5"/>
<path d="M483.4 277 H509.9" stroke="#c23a3a" stroke-width="1.5"/>
<text x="513" y="257.5" font-size="11.8" fill="#111" text-anchor="start" ><tspan font-style="italic">E</tspan><tspan font-size="11.4" dy="3.5" dx="0.6">x</tspan></text>
<text x="513" y="279.5" font-size="11.8" fill="#111" text-anchor="start" ><tspan font-style="italic">E</tspan><tspan font-size="11.4" dy="2.4" dx="0.6">z</tspan></text>
<g>
<rect x="388.4" y="268.3" width="78.6" height="39.2" fill="#c3e6f5" stroke="#8fb4c8" stroke-width="0.6"/>
<rect x="388.4" y="252.5" width="30.6" height="15.8" fill="#737373"/>
<rect x="435.8" y="252.5" width="31.2" height="15.8" fill="#737373"/>
<path d="M397 252.4 H419" stroke="#f2e020" stroke-width="1.7"/>
<polygon points="389.9,252.4 400,249 398.2,252.4 400,255.8" fill="#f7e81c"/>
<path d="M435.6 252.4 H458" stroke="#f2e020" stroke-width="1.7"/>
<polygon points="465,252.4 454.9,249 456.7,252.4 454.9,255.8" fill="#f7e81c"/>
<path d="M420.8 268.8 H433.8" stroke="#e02030" stroke-width="1.5"/>
<polygon points="417.4,268.8 422.8,266.5 422.8,271.1" fill="#e02030"/>
<polygon points="437.2,268.8 431.8,266.5 431.8,271.1" fill="#e02030"/>
<path d="M420.8 289.8 H433.8" stroke="#e02030" stroke-width="1.5"/>
<polygon points="417.4,289.8 422.8,287.5 422.8,292.1" fill="#e02030"/>
<polygon points="437.2,289.8 431.8,287.5 431.8,292.1" fill="#e02030"/>
<circle cx="427.3" cy="268.8" r="1.3" fill="#fff" stroke="#801018" stroke-width="0.6"/>
<path d="M427.3 273.4 V285" stroke="#333" stroke-width="0.9" stroke-dasharray="1.4 1.4"/>
<polygon points="427.3,270.8 425.9,274 428.7,274" fill="#333"/>
<polygon points="427.3,287.6 425.9,284.4 428.7,284.4" fill="#333"/>
<path d="M415.2 276.6 C416 270 417 266 418 264.4 C420 265 424 267 426.6 268.6" stroke="#333" stroke-width="0.8" fill="none"/>
<text x="422.8" y="264.2" font-size="10.8" fill="#222" text-anchor="start" font-family='"Liberation Serif", "Times New Roman", serif' ><tspan font-style="italic">μ</tspan><tspan font-size="7" dy="1.8">A</tspan></text>
<text x="421.6" y="301.8" font-size="13" fill="#222" text-anchor="start" font-family='"Liberation Serif", "Times New Roman", serif' ><tspan font-style="italic">μ</tspan><tspan font-size="7.4" dy="2">D</tspan></text>
<text x="436.4" y="282" font-size="12" fill="#222" text-anchor="start" font-family='"Liberation Serif", "Times New Roman", serif' ><tspan font-style="italic">z</tspan><tspan font-size="7.4" dy="2.2" dx="1">d</tspan></text>
<text x="394.4" y="264.4" font-size="7.8" fill="#222" text-anchor="start" font-family='"Liberation Serif", "Times New Roman", serif' >Ag</text>
<text x="440.8" y="249" font-size="8.4" fill="#222" text-anchor="start" font-family='"Liberation Serif", "Times New Roman", serif' >SPP</text>
<text x="408.4" y="282.2" font-size="6.2" fill="#222" text-anchor="start" font-family='"Liberation Serif", "Times New Roman", serif' >(0,0)</text>
<text transform="translate(402.4 289.4) rotate(-90)" font-size="7.8" fill="#222" text-anchor="middle" font-family='"Liberation Serif", "Times New Roman", serif'>Diamond</text>
</g>
</svg>
</body></html>
